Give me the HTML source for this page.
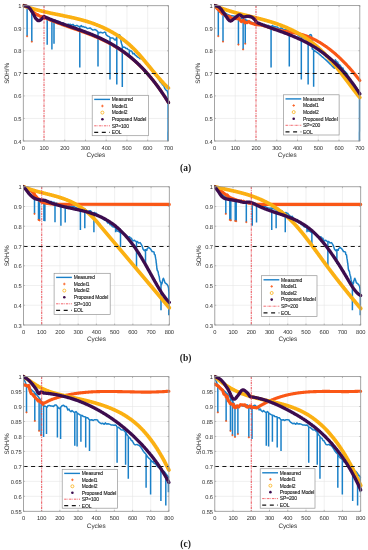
<!DOCTYPE html><html><head><meta charset="utf-8"><style>html,body{margin:0;padding:0;background:#fff;}svg{display:block;filter:blur(0.3px)}.tk{font-family:"Liberation Sans", sans-serif;font-size:5.75px;letter-spacing:-0.12px;fill:#2e2e2e;text-rendering:geometricPrecision}.lb{font-family:"Liberation Sans", sans-serif;font-size:6.4px;letter-spacing:-0.08px;fill:#2e2e2e;text-rendering:geometricPrecision}.lg{font-family:"Liberation Sans", sans-serif;font-size:4.95px;letter-spacing:-0.1px;fill:#1e1e1e;stroke:#1e1e1e;stroke-width:0.12px}.cap{font-family:"Liberation Serif",serif;font-weight:bold;font-size:9.5px;fill:#1a1a1a}</style></head><body>
<svg width="368" height="550" viewBox="0 0 368 550">
<rect width="368" height="550" fill="#fff"/>
<path d="M44.03,5.7V141M64.76,5.7V141M85.49,5.7V141M106.21,5.7V141M126.94,5.7V141M147.67,5.7V141M23.3,28.25H168.4M23.3,50.8H168.4M23.3,73.35H168.4M23.3,95.9H168.4M23.3,118.45H168.4" stroke="#e6e6e6" stroke-width="0.6" fill="none"/>
<clipPath id="c23_5"><rect x="22.8" y="3.2" width="148.1" height="137.8"/></clipPath>
<g clip-path="url(#c23_5)">
<path d="M23.5,5.7L25.2,6.1L26.9,6.7L28.0,7.3L29.0,8.2L30.1,9.3L31.2,10.5L32.3,11.7L33.5,12.7L34.8,13.6L36.2,14.4L37.5,15.1L39.0,15.6L40.4,15.8L41.9,16.0L43.4,16.3L44.9,16.8L46.4,17.3L48.0,17.9L49.5,18.4L51.1,19.0L52.6,19.5L54.0,19.9L55.5,20.4L57.0,21.0L58.6,21.5L60.1,22.2L61.6,23.1L63.1,22.8L64.1,23.7L65.5,25.1L67.0,25.5L68.2,24.1L69.3,24.4L70.4,24.2L71.4,25.2L72.9,24.4L73.9,25.4L75.5,26.0L76.9,25.3L78.5,26.4L80.0,26.5L81.4,25.6L81.9,26.8L83.4,26.6L84.4,27.2L85.9,27.2L87.3,28.5L88.8,28.3L90.4,28.0L91.5,29.1L93.0,30.1L94.5,29.6L95.6,29.8L96.7,30.5L98.2,32.2L99.6,32.7L100.7,32.3L102.3,32.9L103.2,32.8L104.5,32.1L105.6,32.5L105.9,34.2L106.9,35.4L108.0,36.2L109.0,36.5L110.0,37.3L111.1,37.9L112.6,37.9L113.7,38.6L114.5,39.7L115.7,40.0L116.0,39.0L116.7,37.2L117.8,35.8L118.9,34.6L120.0,35.1L120.2,36.1L120.3,37.4L120.5,37.7L120.6,39.2L120.9,40.2L121.1,42.0L121.6,43.8L122.2,45.7L123.2,47.3L124.5,47.2L126.0,48.4L127.2,48.5L128.1,49.6L129.5,50.1L130.4,51.0L131.6,51.0L132.0,51.7L132.9,53.9L134.2,53.3L135.0,54.9L136.3,55.9L137.6,57.1L138.9,57.6L140.0,58.7L141.2,58.3L141.7,58.5L142.1,59.0L143.0,59.4L143.8,59.9L144.2,60.3L145.0,61.8L146.3,61.9L147.2,64.2L148.6,65.2L149.4,66.2L150.3,67.8L151.5,68.0L152.3,70.2L153.7,71.6L155.0,73.1L155.9,74.1L156.7,76.2L158.0,78.0L159.0,79.5L159.8,81.5L161.0,82.8L161.8,83.5L162.4,84.7L163.3,85.3L164.0,86.2L164.6,88.1L165.7,89.8L167.1,90.7L167.9,93.6L168.0,94.9L168.0,95.5L168.1,96.7L168.1,99.2L168.1,101.1L168.1,102.4L168.1,103.9L168.1,105.0L168.1,106.1L168.1,106.4L168.1,108.8L168.1,110.6L168.1,111.3L168.1,112.5L168.1,112.9L168.1,113.9L168.1,115.6L168.1,117.3L168.1,118.8L168.1,119.6L168.1,121.7L168.1,124.2L168.1,125.4L168.1,125.8L168.1,126.3L168.1,127.0L168.1,129.5L168.1,130.8L168.0,133.0L168.0,133.5L168.0,134.2L168.0,136.1L168.0,138.2L168.0,139.2L168.0,139.5L168.0,141.5L168.0,141.0M27.1,6.81V36.3M31.8,11.16V41.7M47.2,17.61V44.7M51.9,19.23V49.5M54,19.92V43.8M79.8,26.49V67.6M98,31.98V66.5M110,37.29V79.6M116.8,37.13V84.5M122.3,45.9V86.9M129.3,49.99V55.9" stroke="#1a80c8" stroke-width="1.5" fill="none" stroke-linejoin="round"/>
<path d="M26.1,36.3h2M27.1,35.3v2" stroke="#fa5716" stroke-width="0.8"/>
<path d="M30.8,41.7h2M31.8,40.7v2" stroke="#fa5716" stroke-width="0.8"/>
<path d="M23.5,5.7L23.8,5.8L24.2,5.9L24.6,5.9L25.1,6.1L25.6,6.2L26.2,6.3L26.7,6.5L27.3,6.7L27.9,7.0L28.4,7.3L28.7,7.5L29.1,7.8L29.5,8.1L29.8,8.5L30.2,8.8L30.6,9.2L30.9,9.6L31.3,10.0L31.7,10.4L32.1,10.8L32.4,11.1L32.8,11.5L33.2,11.9L33.5,12.2L33.9,12.5L34.4,12.9L34.8,13.2L35.3,13.5L35.8,13.9L36.2,14.2L36.7,14.5L37.1,14.7L37.6,15.0L38.0,15.3L38.5,15.5L38.9,15.7L39.3,15.9L39.9,16.1L40.5,16.3L41.1,16.5L41.7,16.6L42.2,16.7L42.7,16.8L43.1,16.8L43.4,16.9L43.9,17.1L44.4,17.4L44.9,17.6L45.4,17.8L45.9,18.1L46.4,18.3L46.9,18.5L47.4,18.7L47.9,18.9L48.4,19.2L48.9,19.4L49.4,19.6L49.9,19.8L50.4,20.0L50.9,20.2L51.4,20.4L51.9,20.6L52.4,20.8L52.9,21.0L53.4,21.2L53.9,21.4L54.4,21.6L54.9,21.8L55.4,22.0L55.9,22.2L56.4,22.4L56.9,22.6L57.4,22.8L57.9,23.0L58.4,23.2L58.9,23.4L59.4,23.5L59.9,23.7L60.4,23.9L60.9,24.1L61.4,24.3L61.9,24.5L62.4,24.7L62.9,24.8L63.4,25.0L63.9,25.2L64.4,25.4L64.9,25.5L65.4,25.7L65.9,25.9L66.4,26.1L66.9,26.3L67.4,26.4L67.9,26.6L68.4,26.8L68.9,27.0L69.4,27.1L69.9,27.3L70.4,27.5L70.9,27.7L71.4,27.8L71.9,28.0L72.4,28.2L72.9,28.3L73.4,28.5L73.9,28.7L74.4,28.9L74.9,29.0L75.4,29.2L75.9,29.4L76.4,29.6L76.9,29.7L77.4,29.9L77.9,30.1L78.4,30.3L78.9,30.4L79.4,30.6L79.9,30.8L80.4,31.0L80.9,31.1L81.4,31.3L81.9,31.5L82.4,31.7L82.9,31.9L83.4,32.0L83.9,32.2L84.4,32.4L84.9,32.6L85.4,32.8L85.9,33.0L86.4,33.1L86.9,33.3L87.4,33.5L87.9,33.7L88.4,33.9L88.9,34.1L89.4,34.3L89.9,34.5L90.4,34.7L90.9,34.9L91.4,35.1L91.9,35.2L92.4,35.4L92.9,35.6L93.4,35.9L93.9,36.1L94.4,36.3L94.9,36.5L95.4,36.7L95.9,36.9L96.4,37.1L96.9,37.3L97.4,37.5L97.9,37.7L98.4,38.0L98.9,38.2L99.4,38.4L99.9,38.6L100.4,38.8L100.9,39.1L101.4,39.3L101.9,39.5L102.4,39.8L102.9,40.0L103.4,40.2L103.9,40.5L104.4,40.7L104.9,41.0L105.4,41.2L105.9,41.5L106.4,41.7L106.9,42.0L107.4,42.2L107.9,42.5L108.4,42.7L108.9,43.0L109.4,43.3L109.9,43.5L110.4,43.8L110.9,44.1L111.4,44.4L111.9,44.6L112.4,44.9L112.9,45.2L113.4,45.5L113.9,45.8L114.4,46.1L114.9,46.4L115.4,46.7L115.9,47.0L116.4,47.3L116.9,47.6L117.4,47.9L117.9,48.2L118.4,48.5L118.9,48.9L119.4,49.2L119.9,49.5L120.4,49.8L120.9,50.2L121.4,50.5L121.9,50.8L122.4,51.2L122.9,51.5L123.4,51.9L123.9,52.2L124.4,52.6L124.9,53.0L125.4,53.3L125.9,53.7L126.4,54.1L126.9,54.5L127.4,54.8L127.9,55.2L128.4,55.6L128.9,56.0L129.4,56.4L129.9,56.8L130.4,57.2L130.9,57.6L131.4,58.0L131.9,58.4L132.4,58.9L132.9,59.3L133.4,59.7L133.9,60.2L134.4,60.6L134.9,61.0L135.4,61.5L135.9,61.9L136.4,62.4L136.9,62.8L137.4,63.3L137.9,63.8L138.4,64.3L138.9,64.7L139.4,65.2L139.9,65.7L140.4,66.2L140.9,66.7L141.4,67.2L141.9,67.7L142.4,68.2L142.9,68.7L143.4,69.3L143.9,69.8L144.4,70.3L144.9,70.8L145.4,71.4L145.9,71.9L146.4,72.5L146.9,73.0L147.4,73.6L147.9,74.2L148.4,74.8L148.9,75.3L149.4,75.9L149.9,76.5L150.4,77.1L150.9,77.7L151.4,78.3L151.9,78.9L152.4,79.5L152.9,80.2L153.4,80.8L153.9,81.4L154.4,82.1L154.9,82.7L155.4,83.4L155.9,84.0L156.4,84.7L156.9,85.3L157.4,86.0L157.9,86.7L158.4,87.4L158.9,88.1L159.4,88.8L159.9,89.5L160.4,90.2L160.9,90.9L161.4,91.6L161.9,92.4L162.4,93.1L162.9,93.8L163.4,94.6L163.9,95.3L164.4,96.1L164.9,96.9L165.4,97.7L165.9,98.4L166.4,99.2L166.9,100.0L167.4,100.8L167.9,101.6L168.4,102.4L168.5,102.6" stroke="#fa5716" stroke-width="3.1" fill="none" stroke-linecap="round" stroke-linejoin="round"/>
<path d="M22.49,5.18h2.6M23.79,3.88v2.6M24.52,6.96h2.6M25.82,5.66v2.6M27.06,7.4h2.6M28.36,6.1v2.6M29.07,9.67h2.6M30.37,8.37v2.6M30.97,11.33h2.6M32.27,10.03v2.6M32.39,13.03h2.6M33.69,11.73v2.6M34.1,13.64h2.6M35.4,12.34v2.6M36.83,14.68h2.6M38.13,13.38v2.6M39.04,16.78h2.6M40.34,15.48v2.6M41.67,17.52h2.6M42.97,16.22v2.6M43.2,18.61h2.6M44.5,17.31v2.6" stroke="#fa5716" stroke-width="0.9" fill="none"/>
<path d="M23.5,5.7L24.0,5.9L24.5,6.1L25.0,6.2L25.5,6.4L26.0,6.6L26.5,6.8L27.0,6.9L27.5,7.1L28.0,7.3L28.5,7.4L29.0,7.6L29.5,7.7L30.0,7.9L30.5,8.1L31.0,8.2L31.5,8.4L32.0,8.5L32.5,8.7L33.0,8.8L33.5,8.9L34.0,9.1L34.5,9.2L35.0,9.4L35.5,9.5L36.0,9.6L36.5,9.8L37.0,9.9L37.5,10.0L38.0,10.2L38.5,10.3L39.0,10.4L39.5,10.6L40.0,10.7L40.5,10.8L41.0,10.9L41.5,11.1L42.0,11.2L42.5,11.3L43.0,11.4L43.5,11.5L44.0,11.6L44.5,11.8L45.0,11.9L45.5,12.0L46.0,12.1L46.5,12.2L47.0,12.3L47.5,12.4L48.0,12.5L48.5,12.7L49.0,12.8L49.5,12.9L50.0,13.0L50.5,13.1L51.0,13.2L51.5,13.3L52.0,13.4L52.5,13.5L53.0,13.6L53.5,13.7L54.0,13.8L54.5,13.9L55.0,14.0L55.5,14.1L56.0,14.2L56.5,14.3L57.0,14.4L57.5,14.5L58.0,14.6L58.5,14.7L59.0,14.8L59.5,14.9L60.0,15.0L60.5,15.1L61.0,15.2L61.5,15.3L62.0,15.4L62.5,15.5L63.0,15.6L63.5,15.8L64.0,15.9L64.5,16.0L65.0,16.1L65.5,16.2L66.0,16.3L66.5,16.4L67.0,16.5L67.5,16.6L68.0,16.7L68.5,16.8L69.0,16.9L69.5,17.0L70.0,17.1L70.5,17.2L71.0,17.3L71.5,17.5L72.0,17.6L72.5,17.7L73.0,17.8L73.5,17.9L74.0,18.0L74.5,18.1L75.0,18.3L75.5,18.4L76.0,18.5L76.5,18.6L77.0,18.7L77.5,18.9L78.0,19.0L78.5,19.1L79.0,19.2L79.5,19.4L80.0,19.5L80.5,19.6L81.0,19.8L81.5,19.9L82.0,20.0L82.5,20.2L83.0,20.3L83.5,20.5L84.0,20.6L84.5,20.7L85.0,20.9L85.5,21.0L86.0,21.2L86.5,21.3L87.0,21.5L87.5,21.6L88.0,21.8L88.5,22.0L89.0,22.1L89.5,22.3L90.0,22.4L90.5,22.6L91.0,22.8L91.5,22.9L92.0,23.1L92.5,23.3L93.0,23.5L93.5,23.6L94.0,23.8L94.5,24.0L95.0,24.2L95.5,24.4L96.0,24.6L96.5,24.8L97.0,25.0L97.5,25.2L98.0,25.4L98.5,25.6L99.0,25.8L99.5,26.0L100.0,26.2L100.5,26.4L101.0,26.6L101.5,26.8L102.0,27.1L102.5,27.3L103.0,27.5L103.5,27.7L104.0,28.0L104.5,28.2L105.0,28.4L105.5,28.7L106.0,28.9L106.5,29.2L107.0,29.4L107.5,29.7L108.0,29.9L108.5,30.2L109.0,30.5L109.5,30.7L110.0,31.0L110.5,31.3L111.0,31.6L111.5,31.8L112.0,32.1L112.5,32.4L113.0,32.7L113.5,33.0L114.0,33.3L114.5,33.6L115.0,33.9L115.5,34.2L116.0,34.5L116.5,34.9L117.0,35.2L117.5,35.5L118.0,35.8L118.5,36.2L119.0,36.5L119.5,36.9L120.0,37.2L120.5,37.6L121.0,37.9L121.5,38.3L122.0,38.6L122.5,39.0L123.0,39.4L123.5,39.8L124.0,40.2L124.5,40.6L125.0,41.0L125.5,41.4L126.0,41.8L126.5,42.2L127.0,42.6L127.5,43.0L128.0,43.4L128.5,43.9L129.0,44.3L129.5,44.8L130.0,45.2L130.5,45.7L131.0,46.1L131.5,46.6L132.0,47.1L132.5,47.6L133.0,48.0L133.5,48.5L134.0,49.0L134.5,49.5L135.0,50.1L135.5,50.6L136.0,51.1L136.5,51.6L137.0,52.2L137.5,52.7L138.0,53.2L138.5,53.8L139.0,54.4L139.5,54.9L140.0,55.5L140.5,56.1L141.0,56.6L141.5,57.2L142.0,57.8L142.5,58.4L143.0,59.0L143.5,59.6L144.0,60.2L144.5,60.8L145.0,61.4L145.5,62.0L146.0,62.6L146.5,63.2L147.0,63.8L147.5,64.4L148.0,65.0L148.5,65.6L149.0,66.2L149.5,66.8L150.0,67.4L150.5,68.0L151.0,68.7L151.5,69.3L152.0,69.9L152.5,70.5L153.0,71.1L153.5,71.7L154.0,72.3L154.5,72.9L155.0,73.5L155.5,74.1L156.0,74.7L156.5,75.3L157.0,75.9L157.5,76.5L158.0,77.0L158.5,77.6L159.0,78.2L159.5,78.8L160.0,79.3L160.5,79.9L161.0,80.5L161.5,81.0L162.0,81.6L162.5,82.1L163.0,82.6L163.5,83.2L164.0,83.7L164.5,84.2L165.0,84.7L165.5,85.2L166.0,85.7L166.5,86.2L167.0,86.7L167.5,87.2L168.0,87.6L168.4,88.0" stroke="#fbb012" stroke-width="3.7" fill="none" stroke-linecap="round" stroke-linejoin="round"/>
<path d="M23.5,5.7L23.8,5.8L24.2,5.8L24.6,5.9L25.1,6.0L25.7,6.1L26.3,6.2L26.8,6.3L27.4,6.5L27.9,6.8L28.4,7.1L28.7,7.4L29.1,7.7L29.4,8.1L29.7,8.4L30.1,8.9L30.4,9.3L30.7,9.7L31.0,10.2L31.3,10.7L31.6,11.1L31.9,11.6L32.2,12.1L32.5,12.5L32.8,13.0L33.1,13.4L33.3,13.9L33.6,14.5L33.9,15.0L34.2,15.5L34.4,16.0L34.7,16.5L34.9,17.0L35.2,17.5L35.4,17.9L35.7,18.3L35.9,18.6L36.4,19.2L36.9,19.7L37.3,20.1L37.7,20.4L38.2,20.6L38.6,20.7L39.0,20.7L39.5,20.5L39.9,20.3L40.4,20.0L40.8,19.6L41.3,19.3L41.7,19.0L42.2,18.5L42.6,18.1L43.1,17.6L43.5,17.2L43.8,16.9L44.1,16.6L44.6,16.8L45.1,17.0L45.6,17.3L46.1,17.5L46.6,17.7L47.1,17.9L47.6,18.1L48.1,18.3L48.6,18.5L49.1,18.7L49.6,19.0L50.1,19.2L50.6,19.4L51.1,19.6L51.6,19.8L52.1,20.0L52.6,20.2L53.1,20.4L53.6,20.6L54.1,20.7L54.6,20.9L55.1,21.1L55.6,21.3L56.1,21.5L56.6,21.7L57.1,21.9L57.6,22.1L58.1,22.3L58.6,22.4L59.1,22.6L59.6,22.8L60.1,23.0L60.6,23.2L61.1,23.4L61.6,23.5L62.1,23.7L62.6,23.9L63.1,24.1L63.6,24.3L64.1,24.4L64.6,24.6L65.1,24.8L65.6,25.0L66.1,25.1L66.6,25.3L67.1,25.5L67.6,25.7L68.1,25.8L68.6,26.0L69.1,26.2L69.6,26.4L70.1,26.5L70.6,26.7L71.1,26.9L71.6,27.1L72.1,27.2L72.6,27.4L73.1,27.6L73.6,27.8L74.1,27.9L74.6,28.1L75.1,28.3L75.6,28.5L76.1,28.6L76.6,28.8L77.1,29.0L77.6,29.2L78.1,29.4L78.6,29.5L79.1,29.7L79.6,29.9L80.1,30.1L80.6,30.3L81.1,30.4L81.6,30.6L82.1,30.8L82.6,31.0L83.1,31.2L83.6,31.3L84.1,31.5L84.6,31.7L85.1,31.9L85.6,32.1L86.1,32.3L86.6,32.5L87.1,32.7L87.6,32.9L88.1,33.1L88.6,33.2L89.1,33.4L89.6,33.6L90.1,33.8L90.6,34.0L91.1,34.2L91.6,34.4L92.1,34.6L92.6,34.9L93.1,35.1L93.6,35.3L94.1,35.5L94.6,35.7L95.1,35.9L95.6,36.1L96.1,36.3L96.6,36.6L97.1,36.8L97.6,37.0L98.1,37.2L98.6,37.4L99.1,37.7L99.6,37.9L100.1,38.1L100.6,38.4L101.1,38.6L101.6,38.8L102.1,39.1L102.6,39.3L103.1,39.6L103.6,39.8L104.1,40.1L104.6,40.3L105.1,40.6L105.6,40.8L106.1,41.1L106.6,41.3L107.1,41.6L107.6,41.8L108.1,42.1L108.6,42.4L109.1,42.7L109.6,42.9L110.1,43.2L110.6,43.5L111.1,43.8L111.6,44.0L112.1,44.3L112.6,44.6L113.1,44.9L113.6,45.2L114.1,45.5L114.6,45.8L115.1,46.1L115.6,46.4L116.1,46.7L116.6,47.1L117.1,47.4L117.6,47.7L118.1,48.0L118.6,48.3L119.1,48.7L119.6,49.0L120.1,49.3L120.6,49.7L121.1,50.0L121.6,50.4L122.1,50.7L122.6,51.1L123.1,51.4L123.6,51.8L124.1,52.1L124.6,52.5L125.1,52.9L125.6,53.3L126.1,53.6L126.6,54.0L127.1,54.4L127.6,54.8L128.1,55.2L128.6,55.6L129.1,56.0L129.6,56.4L130.1,56.8L130.6,57.2L131.1,57.6L131.6,58.0L132.1,58.5L132.6,58.9L133.1,59.3L133.6,59.8L134.1,60.2L134.6,60.6L135.1,61.1L135.6,61.6L136.1,62.0L136.6,62.5L137.1,62.9L137.6,63.4L138.1,63.9L138.6,64.4L139.1,64.9L139.6,65.3L140.1,65.8L140.6,66.3L141.1,66.8L141.6,67.3L142.1,67.9L142.6,68.4L143.1,68.9L143.6,69.4L144.1,70.0L144.6,70.5L145.1,71.0L145.6,71.6L146.1,72.1L146.6,72.7L147.1,73.3L147.6,73.8L148.1,74.4L148.6,75.0L149.1,75.6L149.6,76.2L150.1,76.8L150.6,77.3L151.1,78.0L151.6,78.6L152.1,79.2L152.6,79.8L153.1,80.4L153.6,81.1L154.1,81.7L154.6,82.3L155.1,83.0L155.6,83.6L156.1,84.3L156.6,85.0L157.1,85.6L157.6,86.3L158.1,87.0L158.6,87.7L159.1,88.4L159.6,89.1L160.1,89.8L160.6,90.5L161.1,91.2L161.6,92.0L162.1,92.7L162.6,93.4L163.1,94.2L163.6,94.9L164.1,95.7L164.6,96.4L165.1,97.2L165.6,98.0L166.1,98.8L166.6,99.5L167.1,100.3L167.6,101.1L168.1,102.0L168.5,102.6" stroke="#3c0c4e" stroke-width="3.3" fill="none" stroke-linecap="round" stroke-linejoin="round"/>
<path d="M44.03,5.7V141" stroke="#ef4048" stroke-width="0.9" stroke-dasharray="2.4 1 0.8 1" fill="none"/>
<path d="M23.3,73.5H168.4" stroke="#161616" stroke-width="1.2" stroke-dasharray="4.1 3.45" fill="none"/>
</g>
<rect x="23.3" y="5.7" width="145.1" height="135.3" stroke="#959595" stroke-width="0.85" fill="none"/>
<path d="M23.3,141v-1.4M23.3,5.7v1.4M44.03,141v-1.4M44.03,5.7v1.4M64.76,141v-1.4M64.76,5.7v1.4M85.49,141v-1.4M85.49,5.7v1.4M106.21,141v-1.4M106.21,5.7v1.4M126.94,141v-1.4M126.94,5.7v1.4M147.67,141v-1.4M147.67,5.7v1.4M168.4,141v-1.4M168.4,5.7v1.4M23.3,5.7h1.4M168.4,5.7h-1.4M23.3,28.25h1.4M168.4,28.25h-1.4M23.3,50.8h1.4M168.4,50.8h-1.4M23.3,73.35h1.4M168.4,73.35h-1.4M23.3,95.9h1.4M168.4,95.9h-1.4M23.3,118.45h1.4M168.4,118.45h-1.4M23.3,141h1.4M168.4,141h-1.4" stroke="#959595" stroke-width="0.6" fill="none"/>
<text x="23.3" y="149.9" text-anchor="middle" class="tk">0</text>
<text x="44.03" y="149.9" text-anchor="middle" class="tk">100</text>
<text x="64.76" y="149.9" text-anchor="middle" class="tk">200</text>
<text x="85.49" y="149.9" text-anchor="middle" class="tk">300</text>
<text x="106.21" y="149.9" text-anchor="middle" class="tk">400</text>
<text x="126.94" y="149.9" text-anchor="middle" class="tk">500</text>
<text x="147.67" y="149.9" text-anchor="middle" class="tk">600</text>
<text x="168.4" y="149.9" text-anchor="middle" class="tk">700</text>
<text x="21.3" y="8.2" text-anchor="end" class="tk">1</text>
<text x="21.3" y="30.75" text-anchor="end" class="tk">0.9</text>
<text x="21.3" y="53.3" text-anchor="end" class="tk">0.8</text>
<text x="21.3" y="75.85" text-anchor="end" class="tk">0.7</text>
<text x="21.3" y="98.4" text-anchor="end" class="tk">0.6</text>
<text x="21.3" y="120.95" text-anchor="end" class="tk">0.5</text>
<text x="21.3" y="143.5" text-anchor="end" class="tk">0.4</text>
<text x="95.85" y="157.2" text-anchor="middle" class="lb">Cycles</text>
<text x="9.1" y="73.35" transform="rotate(-90 9.1 73.35)" text-anchor="middle" class="lb">SOH/%</text>
<path d="M235.26,5.6V141M256.01,5.6V141M276.77,5.6V141M297.53,5.6V141M318.29,5.6V141M339.04,5.6V141M214.5,28.17H359.8M214.5,50.73H359.8M214.5,73.3H359.8M214.5,95.87H359.8M214.5,118.43H359.8" stroke="#e6e6e6" stroke-width="0.6" fill="none"/>
<clipPath id="c214_5"><rect x="214" y="3.1" width="148.3" height="137.9"/></clipPath>
<g clip-path="url(#c214_5)">
<path d="M214.7,5.6L216.4,6.0L218.1,6.6L219.2,7.2L220.2,8.1L221.3,9.2L222.4,10.4L223.5,11.6L224.7,12.6L226.0,13.5L227.4,14.4L228.8,15.0L230.2,15.5L231.6,15.7L233.1,15.9L234.7,16.2L236.1,16.7L237.7,17.2L239.2,17.8L240.8,18.3L242.3,18.9L243.8,19.4L245.3,19.8L246.7,20.3L248.3,20.9L249.8,21.4L251.4,22.1L252.8,23.0L254.4,22.7L255.3,23.6L256.7,25.0L258.3,25.4L259.4,24.0L260.6,24.3L261.7,24.2L262.7,25.1L264.2,24.3L265.2,25.3L266.7,25.9L268.2,25.3L269.7,26.3L271.3,26.4L272.7,25.5L273.2,26.8L274.6,26.5L275.7,27.1L277.2,27.1L278.6,28.4L280.1,28.2L281.7,27.9L282.8,29.1L284.3,30.0L285.8,29.5L286.9,29.7L288.0,30.4L289.5,32.1L290.9,32.7L292.0,32.2L293.6,32.8L294.5,32.7L295.8,32.1L296.9,32.5L297.2,34.1L298.2,35.4L299.3,36.1L300.3,36.4L301.4,37.2L302.5,37.8L303.9,37.9L305.0,38.5L305.9,39.6L307.0,39.9L307.3,38.9L308.0,37.2L309.1,35.7L310.3,34.6L311.3,35.0L311.6,36.0L311.7,37.3L311.9,37.7L312.0,39.2L312.2,48.9L312.5,49.1L312.9,49.4L313.5,49.9L314.5,50.6L315.8,51.6L317.3,52.7L318.6,53.7L319.5,54.4L320.9,55.6L321.7,56.3L322.9,57.3L323.4,57.7L324.2,58.5L325.5,59.6L326.4,60.4L327.7,61.6L329.0,62.9L330.2,64.1L331.4,65.2L332.5,66.4L333.0,66.9L333.5,67.4L334.4,68.3L335.2,59.8L335.6,60.2L336.4,61.7L337.6,61.9L338.5,64.2L340.0,65.1L340.7,66.1L341.7,67.8L342.9,68.0L343.7,70.2L345.1,71.5L346.4,73.0L347.3,74.0L348.1,76.1L349.4,78.0L350.4,79.5L351.2,81.4L352.4,82.7L353.2,83.5L353.7,84.7L354.7,85.3L355.4,86.1L356.0,88.1L357.1,89.8L358.5,90.6L359.3,93.5L359.4,94.9L359.4,95.4L359.5,96.7L359.5,99.2L359.5,101.1L359.5,102.4L359.5,103.9L359.5,105.0L359.5,106.0L359.5,106.4L359.5,108.7L359.5,110.5L359.5,111.3L359.5,112.5L359.5,112.9L359.5,113.8L359.5,115.6L359.5,117.3L359.5,118.8L359.5,119.6L359.5,121.6L359.5,124.1L359.5,125.4L359.5,125.8L359.5,126.3L359.5,127.0L359.5,129.5L359.5,130.8L359.4,133.0L359.4,133.5L359.4,134.2L359.4,136.1L359.4,138.2L359.4,139.2L359.4,139.5L359.4,141.5L359.4,141.0M218.31,6.71V36.22M223.01,11.06V41.63M238.43,17.51V44.63M243.14,19.14V49.43M245.24,19.83V43.73M271.08,26.41V67.55M289.3,31.9V66.44M301.32,37.22V79.55M308.13,37.05V84.46M313.64,49.95V86.86M320.65,55.4V55.84" stroke="#1a80c8" stroke-width="1.5" fill="none" stroke-linejoin="round"/>
<path d="M217.31,36.22h2M218.31,35.22v2" stroke="#fa5716" stroke-width="0.8"/>
<path d="M222.01,41.63h2M223.01,40.63v2" stroke="#fa5716" stroke-width="0.8"/>
<path d="M237.43,44.63h2M238.43,43.63v2" stroke="#fa5716" stroke-width="0.8"/>
<path d="M242.14,49.43h2M243.14,48.43v2" stroke="#fa5716" stroke-width="0.8"/>
<path d="M244.24,43.73h2M245.24,42.73v2" stroke="#fa5716" stroke-width="0.8"/>
<path d="M214.5,5.6L215.6,6.9L216.9,8.3L218.1,9.4L219.6,10.9L220.9,12.0L222.2,13.0L223.9,14.4L225.3,14.9L226.6,16.1L228.4,16.3L229.9,16.6L231.4,18.4L233.5,18.3L235.6,18.4L237.5,18.8L239.1,18.8L240.0,19.9L241.4,21.6L243.4,20.3L245.0,22.2L247.0,22.7L249.0,21.5L250.4,23.1L252.4,23.5L254.1,24.1L254.7,24.1L255.2,24.3L255.6,24.5L256.1,24.6L256.4,24.7L256.7,24.8L257.2,24.8L257.7,24.8L258.2,24.8L258.7,24.8L259.2,24.9L259.7,24.9L260.2,25.0L260.7,25.1L261.2,25.2L261.7,25.3L262.2,25.4L262.7,25.5L263.2,25.6L263.7,25.7L264.2,25.9L264.7,26.0L265.2,26.2L265.7,26.3L266.2,26.5L266.7,26.6L267.2,26.8L267.7,26.9L268.2,27.1L268.7,27.3L269.2,27.4L269.7,27.6L270.2,27.8L270.7,27.9L271.2,28.1L271.7,28.3L272.2,28.4L272.7,28.6L273.2,28.7L273.7,28.9L274.2,29.0L274.7,29.2L275.2,29.3L275.7,29.5L276.2,29.6L276.7,29.7L277.2,29.8L277.7,30.0L278.2,30.1L278.7,30.2L279.2,30.3L279.7,30.4L280.2,30.5L280.7,30.6L281.2,30.7L281.7,30.8L282.2,30.9L282.7,31.0L283.2,31.0L283.7,31.1L284.2,31.2L284.7,31.3L285.2,31.4L285.7,31.5L286.2,31.5L286.7,31.6L287.2,31.7L287.7,31.8L288.2,31.8L288.7,31.9L289.2,32.0L289.7,32.1L290.2,32.2L290.7,32.2L291.2,32.3L291.7,32.4L292.2,32.5L292.7,32.6L293.2,32.6L293.7,32.7L294.2,32.8L294.7,32.9L295.2,33.0L295.7,33.1L296.2,33.2L296.7,33.3L297.2,33.4L297.7,33.5L298.2,33.6L298.7,33.7L299.2,33.9L299.7,34.0L300.2,34.1L300.7,34.2L301.2,34.4L301.7,34.5L302.2,34.7L302.7,34.8L303.2,35.0L303.7,35.1L304.2,35.3L304.7,35.5L305.2,35.6L305.7,35.8L306.2,36.0L306.7,36.2L307.2,36.3L307.7,36.5L308.2,36.7L308.7,36.9L309.2,37.1L309.7,37.3L310.2,37.6L310.7,37.8L311.2,38.0L311.7,38.2L312.2,38.5L312.7,38.7L313.2,38.9L313.7,39.2L314.2,39.4L314.7,39.7L315.2,39.9L315.7,40.2L316.2,40.5L316.7,40.7L317.2,41.0L317.7,41.3L318.2,41.6L318.7,41.9L319.2,42.1L319.7,42.4L320.2,42.7L320.7,43.0L321.2,43.4L321.7,43.7L322.2,44.0L322.7,44.3L323.2,44.6L323.7,45.0L324.2,45.3L324.7,45.6L325.2,46.0L325.7,46.3L326.2,46.7L326.7,47.0L327.2,47.4L327.7,47.8L328.2,48.1L328.7,48.5L329.2,48.9L329.7,49.3L330.2,49.7L330.7,50.1L331.2,50.4L331.7,50.9L332.2,51.3L332.7,51.7L333.2,52.1L333.7,52.5L334.2,52.9L334.7,53.3L335.2,53.8L335.7,54.2L336.2,54.7L336.7,55.1L337.2,55.6L337.7,56.0L338.2,56.5L338.7,56.9L339.2,57.4L339.7,57.9L340.2,58.3L340.7,58.8L341.2,59.3L341.7,59.8L342.2,60.3L342.7,60.8L343.2,61.3L343.7,61.8L344.2,62.3L344.7,62.8L345.2,63.3L345.7,63.9L346.2,64.4L346.7,64.9L347.2,65.5L347.7,66.0L348.2,66.6L348.7,67.1L349.2,67.7L349.7,68.2L350.2,68.8L350.7,69.4L351.2,69.9L351.7,70.5L352.2,71.1L352.7,71.7L353.2,72.3L353.7,72.9L354.2,73.5L354.7,74.1L355.2,74.7L355.7,75.3L356.2,75.9L356.7,76.5L357.2,77.2L357.7,77.8L358.2,78.4L358.7,79.1L359.2,79.7L359.7,80.4L359.8,80.5" stroke="#fa5716" stroke-width="3.1" fill="none" stroke-linecap="round" stroke-linejoin="round"/>
<path d="M213.09,5.3h2.6M214.39,4v2.6M215.71,7.66h2.6M217.01,6.36v2.6M218.21,11.3h2.6M219.51,10v2.6M220.7,14.04h2.6M222,12.74v2.6M222.67,14.17h2.6M223.97,12.87v2.6M225.49,15.9h2.6M226.79,14.6v2.6M228.73,17.67h2.6M230.03,16.37v2.6M230.27,19.12h2.6M231.57,17.82v2.6M234.57,17.51h2.6M235.87,16.21v2.6M237.79,17.94h2.6M239.09,16.64v2.6M240.06,21.65h2.6M241.36,20.35v2.6M241.88,20.55h2.6M243.18,19.25v2.6M243.48,23.21h2.6M244.78,21.91v2.6M247.52,21.2h2.6M248.82,19.9v2.6M250.92,23.16h2.6M252.22,21.86v2.6M253.16,24.36h2.6M254.46,23.06v2.6" stroke="#fa5716" stroke-width="0.9" fill="none"/>
<path d="M214.5,5.6L215.0,5.8L215.5,6.0L216.0,6.2L216.5,6.4L217.0,6.6L217.5,6.8L218.0,7.0L218.5,7.2L219.0,7.4L219.5,7.6L220.0,7.8L220.5,7.9L221.0,8.1L221.5,8.3L222.0,8.5L222.5,8.7L223.0,8.8L223.5,9.0L224.0,9.2L224.5,9.3L225.0,9.5L225.5,9.7L226.0,9.8L226.5,10.0L227.0,10.2L227.5,10.3L228.0,10.5L228.5,10.6L229.0,10.8L229.5,10.9L230.0,11.1L230.5,11.2L231.0,11.4L231.5,11.5L232.0,11.7L232.5,11.8L233.0,12.0L233.5,12.1L234.0,12.2L234.5,12.4L235.0,12.5L235.5,12.7L236.0,12.8L236.5,12.9L237.0,13.1L237.5,13.2L238.0,13.3L238.5,13.5L239.0,13.6L239.5,13.7L240.0,13.9L240.5,14.0L241.0,14.1L241.5,14.2L242.0,14.4L242.5,14.5L243.0,14.6L243.5,14.7L244.0,14.9L244.5,15.0L245.0,15.1L245.5,15.2L246.0,15.4L246.5,15.5L247.0,15.6L247.5,15.7L248.0,15.9L248.5,16.0L249.0,16.1L249.5,16.2L250.0,16.3L250.5,16.5L251.0,16.6L251.5,16.7L252.0,16.8L252.5,17.0L253.0,17.1L253.5,17.2L254.0,17.3L254.5,17.5L255.0,17.6L255.5,17.7L256.0,17.8L256.5,18.0L257.0,18.1L257.5,18.2L258.0,18.3L258.5,18.5L259.0,18.6L259.5,18.7L260.0,18.8L260.5,19.0L261.0,19.1L261.5,19.2L262.0,19.4L262.5,19.5L263.0,19.6L263.5,19.8L264.0,19.9L264.5,20.0L265.0,20.2L265.5,20.3L266.0,20.5L266.5,20.6L267.0,20.7L267.5,20.9L268.0,21.0L268.5,21.2L269.0,21.3L269.5,21.5L270.0,21.6L270.5,21.8L271.0,21.9L271.5,22.1L272.0,22.2L272.5,22.4L273.0,22.5L273.5,22.7L274.0,22.9L274.5,23.0L275.0,23.2L275.5,23.4L276.0,23.5L276.5,23.7L277.0,23.9L277.5,24.0L278.0,24.2L278.5,24.4L279.0,24.6L279.5,24.8L280.0,24.9L280.5,25.1L281.0,25.3L281.5,25.5L282.0,25.7L282.5,25.9L283.0,26.1L283.5,26.3L284.0,26.5L284.5,26.7L285.0,26.9L285.5,27.1L286.0,27.3L286.5,27.5L287.0,27.7L287.5,28.0L288.0,28.2L288.5,28.4L289.0,28.6L289.5,28.9L290.0,29.1L290.5,29.3L291.0,29.6L291.5,29.8L292.0,30.1L292.5,30.3L293.0,30.5L293.5,30.8L294.0,31.1L294.5,31.3L295.0,31.6L295.5,31.8L296.0,32.1L296.5,32.4L297.0,32.6L297.5,32.9L298.0,33.2L298.5,33.5L299.0,33.8L299.5,34.1L300.0,34.4L300.5,34.7L301.0,35.0L301.5,35.3L302.0,35.6L302.5,35.9L303.0,36.2L303.5,36.5L304.0,36.8L304.5,37.2L305.0,37.5L305.5,37.8L306.0,38.2L306.5,38.5L307.0,38.8L307.5,39.2L308.0,39.5L308.5,39.9L309.0,40.3L309.5,40.6L310.0,41.0L310.5,41.4L311.0,41.7L311.5,42.1L312.0,42.5L312.5,42.9L313.0,43.3L313.5,43.7L314.0,44.1L314.5,44.5L315.0,44.9L315.5,45.3L316.0,45.8L316.5,46.2L317.0,46.6L317.5,47.0L318.0,47.5L318.5,47.9L319.0,48.4L319.5,48.8L320.0,49.3L320.5,49.8L321.0,50.2L321.5,50.7L322.0,51.2L322.5,51.7L323.0,52.1L323.5,52.6L324.0,53.1L324.5,53.6L325.0,54.1L325.5,54.7L326.0,55.2L326.5,55.7L327.0,56.2L327.5,56.8L328.0,57.3L328.5,57.8L329.0,58.4L329.5,59.0L330.0,59.5L330.5,60.1L331.0,60.7L331.5,61.2L332.0,61.8L332.5,62.4L333.0,63.0L333.5,63.6L334.0,64.2L334.5,64.8L335.0,65.4L335.5,66.0L336.0,66.6L336.5,67.3L337.0,67.9L337.5,68.5L338.0,69.1L338.5,69.8L339.0,70.4L339.5,71.1L340.0,71.7L340.5,72.3L341.0,73.0L341.5,73.6L342.0,74.3L342.5,74.9L343.0,75.6L343.5,76.3L344.0,76.9L344.5,77.6L345.0,78.2L345.5,78.9L346.0,79.6L346.5,80.2L347.0,80.9L347.5,81.5L348.0,82.2L348.5,82.9L349.0,83.5L349.5,84.2L350.0,84.9L350.5,85.5L351.0,86.2L351.5,86.8L352.0,87.5L352.5,88.2L353.0,88.8L353.5,89.5L354.0,90.1L354.5,90.8L355.0,91.4L355.5,92.1L356.0,92.7L356.5,93.3L357.0,94.0L357.5,94.6L358.0,95.3L358.5,95.9L359.0,96.5L359.5,97.1L359.8,97.5" stroke="#fbb012" stroke-width="3.7" fill="none" stroke-linecap="round" stroke-linejoin="round"/>
<path d="M214.5,5.6L214.8,5.7L215.2,5.8L215.6,5.9L216.2,6.0L216.7,6.2L217.3,6.3L217.9,6.6L218.4,6.8L219.0,7.1L219.5,7.5L219.8,7.8L220.1,8.1L220.4,8.4L220.8,8.8L221.1,9.2L221.4,9.6L221.7,10.0L222.0,10.4L222.3,10.9L222.6,11.3L222.9,11.8L223.2,12.2L223.5,12.7L223.9,13.2L224.2,13.6L224.5,14.0L224.8,14.4L225.1,14.8L225.4,15.3L225.7,15.8L226.0,16.3L226.4,16.7L226.7,17.2L227.0,17.7L227.3,18.2L227.6,18.6L227.9,19.0L228.3,19.4L228.6,19.8L228.9,20.1L229.2,20.4L229.4,20.6L229.7,20.8L230.3,21.0L230.8,21.0L231.2,20.9L231.7,20.6L232.2,20.2L232.6,19.8L233.1,19.4L233.7,19.0L234.1,18.7L234.5,18.4L234.9,18.1L235.3,17.7L235.8,17.3L236.2,16.9L236.7,16.5L237.1,16.1L237.6,15.8L238.0,15.5L238.4,15.2L238.8,15.0L239.2,14.9L239.7,14.9L240.2,15.0L240.7,15.2L241.1,15.6L241.6,15.9L242.0,16.3L242.4,16.6L242.9,16.9L243.3,17.0L243.8,17.0L244.3,17.0L244.8,16.9L245.3,16.8L245.8,16.7L246.3,16.5L246.8,16.4L247.3,16.4L247.8,16.4L248.4,16.4L248.9,16.5L249.4,16.5L250.0,16.6L250.5,16.7L251.0,16.8L251.4,17.0L251.9,17.2L252.4,17.5L252.8,17.8L253.2,18.2L253.7,18.6L254.1,19.0L254.4,19.3L254.8,19.8L255.2,20.2L255.5,20.7L255.9,21.2L256.2,21.6L256.5,22.0L256.8,22.3L257.0,22.6L257.5,22.8L258.0,23.0L258.5,23.2L259.0,23.4L259.5,23.6L260.0,23.8L260.5,24.0L261.0,24.2L261.5,24.4L262.0,24.6L262.5,24.8L263.0,25.0L263.5,25.2L264.0,25.4L264.5,25.6L265.0,25.8L265.5,25.9L266.0,26.1L266.5,26.3L267.0,26.5L267.5,26.7L268.0,26.9L268.5,27.1L269.0,27.2L269.5,27.4L270.0,27.6L270.5,27.8L271.0,28.0L271.5,28.2L272.0,28.3L272.5,28.5L273.0,28.7L273.5,28.9L274.0,29.1L274.5,29.2L275.0,29.4L275.5,29.6L276.0,29.8L276.5,30.0L277.0,30.1L277.5,30.3L278.0,30.5L278.5,30.7L279.0,30.9L279.5,31.0L280.0,31.2L280.5,31.4L281.0,31.6L281.5,31.8L282.0,32.0L282.5,32.1L283.0,32.3L283.5,32.5L284.0,32.7L284.5,32.9L285.0,33.1L285.5,33.3L286.0,33.5L286.5,33.6L287.0,33.8L287.5,34.0L288.0,34.2L288.5,34.4L289.0,34.6L289.5,34.8L290.0,35.0L290.5,35.2L291.0,35.4L291.5,35.6L292.0,35.8L292.5,36.0L293.0,36.2L293.5,36.4L294.0,36.7L294.5,36.9L295.0,37.1L295.5,37.3L296.0,37.5L296.5,37.7L297.0,37.9L297.5,38.2L298.0,38.4L298.5,38.6L299.0,38.8L299.5,39.1L300.0,39.3L300.5,39.5L301.0,39.8L301.5,40.0L302.0,40.3L302.5,40.5L303.0,40.7L303.5,41.0L304.0,41.2L304.5,41.5L305.0,41.7L305.5,42.0L306.0,42.3L306.5,42.5L307.0,42.8L307.5,43.0L308.0,43.3L308.5,43.6L309.0,43.9L309.5,44.1L310.0,44.4L310.5,44.7L311.0,45.0L311.5,45.3L312.0,45.6L312.5,45.9L313.0,46.2L313.5,46.5L314.0,46.8L314.5,47.1L315.0,47.4L315.5,47.7L316.0,48.0L316.5,48.4L317.0,48.7L317.5,49.0L318.0,49.3L318.5,49.7L319.0,50.0L319.5,50.4L320.0,50.7L320.5,51.1L321.0,51.4L321.5,51.8L322.0,52.1L322.5,52.5L323.0,52.9L323.5,53.2L324.0,53.6L324.5,54.0L325.0,54.4L325.5,54.8L326.0,55.2L326.5,55.6L327.0,56.0L327.5,56.4L328.0,56.8L328.5,57.2L329.0,57.6L329.5,58.1L330.0,58.5L330.5,58.9L331.0,59.4L331.5,59.8L332.0,60.2L332.5,60.7L333.0,61.2L333.5,61.6L334.0,62.1L334.5,62.6L335.0,63.0L335.5,63.5L336.0,64.0L336.5,64.5L337.0,65.0L337.5,65.5L338.0,66.0L338.5,66.5L339.0,67.0L339.5,67.6L340.0,68.1L340.5,68.6L341.0,69.2L341.5,69.7L342.0,70.3L342.5,70.8L343.0,71.4L343.5,71.9L344.0,72.5L344.5,73.1L345.0,73.7L345.5,74.3L346.0,74.9L346.5,75.5L347.0,76.1L347.5,76.7L348.0,77.3L348.5,77.9L349.0,78.6L349.5,79.2L350.0,79.9L350.5,80.5L351.0,81.2L351.5,81.8L352.0,82.5L352.5,83.2L353.0,83.9L353.5,84.5L354.0,85.2L354.5,85.9L355.0,86.7L355.5,87.4L356.0,88.1L356.5,88.8L357.0,89.6L357.5,90.3L358.0,91.0L358.5,91.8L359.0,92.6L359.5,93.3L359.8,93.8" stroke="#3c0c4e" stroke-width="3.3" fill="none" stroke-linecap="round" stroke-linejoin="round"/>
<path d="M256.01,5.6V141" stroke="#ef4048" stroke-width="0.9" stroke-dasharray="2.4 1 0.8 1" fill="none"/>
<path d="M214.5,73.5H359.8" stroke="#161616" stroke-width="1.2" stroke-dasharray="4.1 3.45" fill="none"/>
</g>
<rect x="214.5" y="5.6" width="145.3" height="135.4" stroke="#959595" stroke-width="0.85" fill="none"/>
<path d="M214.5,141v-1.4M214.5,5.6v1.4M235.26,141v-1.4M235.26,5.6v1.4M256.01,141v-1.4M256.01,5.6v1.4M276.77,141v-1.4M276.77,5.6v1.4M297.53,141v-1.4M297.53,5.6v1.4M318.29,141v-1.4M318.29,5.6v1.4M339.04,141v-1.4M339.04,5.6v1.4M359.8,141v-1.4M359.8,5.6v1.4M214.5,5.6h1.4M359.8,5.6h-1.4M214.5,28.17h1.4M359.8,28.17h-1.4M214.5,50.73h1.4M359.8,50.73h-1.4M214.5,73.3h1.4M359.8,73.3h-1.4M214.5,95.87h1.4M359.8,95.87h-1.4M214.5,118.43h1.4M359.8,118.43h-1.4M214.5,141h1.4M359.8,141h-1.4" stroke="#959595" stroke-width="0.6" fill="none"/>
<text x="214.5" y="149.9" text-anchor="middle" class="tk">0</text>
<text x="235.26" y="149.9" text-anchor="middle" class="tk">100</text>
<text x="256.01" y="149.9" text-anchor="middle" class="tk">200</text>
<text x="276.77" y="149.9" text-anchor="middle" class="tk">300</text>
<text x="297.53" y="149.9" text-anchor="middle" class="tk">400</text>
<text x="318.29" y="149.9" text-anchor="middle" class="tk">500</text>
<text x="339.04" y="149.9" text-anchor="middle" class="tk">600</text>
<text x="359.8" y="149.9" text-anchor="middle" class="tk">700</text>
<text x="212.5" y="8.1" text-anchor="end" class="tk">1</text>
<text x="212.5" y="30.67" text-anchor="end" class="tk">0.9</text>
<text x="212.5" y="53.23" text-anchor="end" class="tk">0.8</text>
<text x="212.5" y="75.8" text-anchor="end" class="tk">0.7</text>
<text x="212.5" y="98.37" text-anchor="end" class="tk">0.6</text>
<text x="212.5" y="120.93" text-anchor="end" class="tk">0.5</text>
<text x="212.5" y="143.5" text-anchor="end" class="tk">0.4</text>
<text x="287.15" y="157.2" text-anchor="middle" class="lb">Cycles</text>
<text x="200.3" y="73.3" transform="rotate(-90 200.3 73.3)" text-anchor="middle" class="lb">SOH/%</text>
<path d="M41.73,186.75V325M59.95,186.75V325M78.18,186.75V325M96.4,186.75V325M114.62,186.75V325M132.85,186.75V325M151.08,186.75V325M23.5,206.5H169.3M23.5,226.25H169.3M23.5,246H169.3M23.5,265.75H169.3M23.5,285.5H169.3M23.5,305.25H169.3" stroke="#e6e6e6" stroke-width="0.6" fill="none"/>
<clipPath id="c23_186"><rect x="23" y="184.25" width="148.8" height="140.75"/></clipPath>
<g clip-path="url(#c23_186)">
<path d="M23.5,186.8L24.7,187.8L26.1,189.1L27.0,190.0L28.0,191.1L29.0,192.3L30.1,193.6L31.2,194.8L32.4,195.8L33.7,196.7L35.1,197.5L36.5,198.2L38.0,198.8L39.4,199.3L40.9,199.6L42.5,200.0L44.0,200.3L45.5,200.6L47.0,201.0L48.4,201.4L49.9,201.7L51.5,201.5L52.5,203.0L53.9,202.0L54.8,203.6L56.3,203.0L57.8,203.6L59.4,204.2L60.9,204.0L62.4,203.9L63.9,204.0L64.9,204.0L65.9,205.5L67.5,205.3L69.0,205.1L70.0,206.8L71.5,205.9L72.5,206.4L74.0,206.5L75.5,207.6L77.0,207.9L78.5,208.3L80.0,208.0L81.0,208.3L82.0,208.5L83.0,209.0L84.5,209.0L85.5,209.3L86.5,211.2L88.0,211.7L89.5,210.7L90.5,210.7L90.9,211.3L91.9,212.6L93.3,213.4L94.7,212.5L95.2,213.8L96.5,213.3L97.0,214.6L98.3,215.5L99.6,216.9L100.9,216.3L101.8,217.9L103.0,218.9L104.5,220.2L106.0,219.6L106.4,220.9L107.6,222.9L109.2,223.0L110.0,224.6L111.2,225.1L112.4,226.6L113.6,227.1L114.6,227.0L114.9,227.4L115.8,228.2L116.3,228.9L117.1,231.0L118.6,231.4L119.9,232.5L121.4,232.5L122.8,233.1L124.2,234.2L125.5,235.3L126.8,236.2L128.3,237.2L129.6,236.8L130.3,237.9L131.5,238.2L131.9,239.5L133.1,240.9L134.5,240.3L135.0,240.9L135.9,241.5L137.5,241.6L138.6,243.0L140.1,242.6L141.1,244.2L141.8,245.3L142.4,247.0L143.0,249.0L144.2,250.6L145.5,249.7L146.8,250.2L147.2,248.7L148.7,247.3L149.5,248.1L150.8,249.3L152.1,251.5L153.4,251.8L154.1,252.2L154.3,254.3L155.1,254.8L155.3,256.3L155.6,258.2L155.9,259.5L156.1,261.0L156.2,262.8L156.4,263.4L156.5,265.0L156.7,266.2L156.9,268.7L157.4,270.7L157.9,271.1L158.1,271.8L158.3,273.2L158.7,275.2L159.1,276.1L159.3,277.2L159.6,279.4L160.2,281.7L160.9,282.8L161.3,284.8L162.1,283.2L162.5,281.0L162.8,279.8L163.1,278.8L163.5,278.4L164.3,280.5L164.9,282.6L166.4,283.8L167.5,285.1L168.2,286.5L168.6,288.3L168.7,290.4L168.8,291.4L168.9,292.1L168.9,292.9L168.9,293.8L168.9,295.1L168.9,297.1L168.9,297.9L168.9,299.3L168.9,301.2L168.9,301.9L168.9,302.7L168.9,303.7L168.9,304.6L168.9,306.6L168.9,307.7L168.9,308.3L168.8,310.6L168.8,312.6L168.8,314.2L168.8,315.2M34.5,197.16V213.9M38.5,198.96V219.9M39.5,199.29V220.4M43.9,200.25V221M44.9,200.48V221.2M55,203.55V222.2M60.9,204.03V225.7M65.2,204.49V222.4M80.4,208.16V230M84.8,209.11V228.3M93.9,213V232.2M115.6,228.05V232.2M120.5,232.46V247M136.5,241.57V267.7M145.5,249.72V264M161,283.29V310.3" stroke="#1a80c8" stroke-width="1.5" fill="none" stroke-linejoin="round"/>
<path d="M33.5,213.9h2M34.5,212.9v2" stroke="#fa5716" stroke-width="0.8"/>
<path d="M37.5,219.9h2M38.5,218.9v2" stroke="#fa5716" stroke-width="0.8"/>
<path d="M38.5,220.4h2M39.5,219.4v2" stroke="#fa5716" stroke-width="0.8"/>
<path d="M23.5,186.8L23.8,186.9L24.2,187.0L24.7,187.1L25.2,187.3L25.7,187.5L26.3,187.7L26.9,187.9L27.5,188.2L28.0,188.5L28.4,188.7L28.8,189.0L29.2,189.3L29.7,189.6L30.1,189.9L30.5,190.2L31.0,190.5L31.4,190.8L31.8,191.2L32.2,191.5L32.5,191.9L32.9,192.2L33.3,192.6L33.6,193.0L33.9,193.4L34.2,193.8L34.5,194.2L34.7,194.7L35.0,195.1L35.3,195.6L35.7,196.0L36.1,196.5L36.4,196.8L36.7,197.2L37.0,197.6L37.3,198.0L37.7,198.3L38.0,198.7L38.3,199.2L38.7,199.5L39.1,199.9L39.5,200.3L39.9,200.7L40.3,201.0L40.7,201.3L41.1,201.6L41.6,201.9L42.0,202.1L42.5,202.3L42.9,202.5L43.4,202.6L43.9,202.8L44.4,202.9L44.9,203.0L45.4,203.1L45.9,203.2L46.4,203.3L47.0,203.4L47.5,203.5L48.0,203.5L48.5,203.6L49.0,203.7L49.5,203.7L50.0,203.8L50.6,203.9L51.1,203.9L51.7,204.0L52.3,204.0L53.0,204.1L53.6,204.1L54.2,204.2L54.8,204.2L55.3,204.2L55.9,204.2L56.4,204.2L56.8,204.3L57.2,204.3L57.6,204.3L57.9,204.3L169.3,204.4" stroke="#fa5716" stroke-width="3.1" fill="none" stroke-linecap="round" stroke-linejoin="round"/>
<path d="M21.88,186.28h2.6M23.18,184.98v2.6M24.65,187.5h2.6M25.95,186.2v2.6M26.39,187.55h2.6M27.69,186.25v2.6M29.09,190.74h2.6M30.39,189.44v2.6M30.8,192.12h2.6M32.1,190.82v2.6M32.35,194.48h2.6M33.65,193.18v2.6M33.68,196.43h2.6M34.98,195.13v2.6M35.76,198.47h2.6M37.06,197.17v2.6M37.72,198.68h2.6M39.02,197.38v2.6M39.21,200.63h2.6M40.51,199.33v2.6" stroke="#fa5716" stroke-width="0.9" fill="none"/>
<path d="M23.5,186.7L24.0,187.0L24.5,187.2L25.0,187.4L25.5,187.6L26.0,187.8L26.5,188.0L27.0,188.2L27.5,188.3L28.0,188.5L28.5,188.7L29.0,188.9L29.5,189.0L30.0,189.2L30.5,189.4L31.0,189.6L31.5,189.7L32.0,189.9L32.5,190.0L33.0,190.2L33.5,190.3L34.0,190.5L34.5,190.6L35.0,190.8L35.5,190.9L36.0,191.1L36.5,191.2L37.0,191.4L37.5,191.5L38.0,191.6L38.5,191.8L39.0,191.9L39.5,192.0L40.0,192.2L40.5,192.3L41.0,192.4L41.5,192.6L42.0,192.7L42.5,192.8L43.0,192.9L43.5,193.1L44.0,193.2L44.5,193.3L45.0,193.4L45.5,193.6L46.0,193.7L46.5,193.8L47.0,193.9L47.5,194.1L48.0,194.2L48.5,194.3L49.0,194.4L49.5,194.6L50.0,194.7L50.5,194.8L51.0,194.9L51.5,195.1L52.0,195.2L52.5,195.3L53.0,195.5L53.5,195.6L54.0,195.7L54.5,195.9L55.0,196.0L55.5,196.2L56.0,196.3L56.5,196.4L57.0,196.6L57.5,196.7L58.0,196.9L58.5,197.0L59.0,197.2L59.5,197.3L60.0,197.5L60.5,197.7L61.0,197.8L61.5,198.0L62.0,198.2L62.5,198.3L63.0,198.5L63.5,198.7L64.0,198.9L64.5,199.0L65.0,199.2L65.5,199.4L66.0,199.6L66.5,199.8L67.0,200.0L67.5,200.2L68.0,200.4L68.5,200.6L69.0,200.8L69.5,201.1L70.0,201.3L70.5,201.5L71.0,201.7L71.5,202.0L72.0,202.2L72.5,202.5L73.0,202.7L73.5,203.0L74.0,203.2L74.5,203.5L75.0,203.8L75.5,204.0L76.0,204.3L76.5,204.6L77.0,204.9L77.5,205.2L78.0,205.5L78.5,205.8L79.0,206.1L79.5,206.4L80.0,206.8L80.5,207.1L81.0,207.4L81.5,207.8L82.0,208.1L82.5,208.5L83.0,208.8L83.5,209.2L84.0,209.6L84.5,210.0L85.0,210.4L85.5,210.8L86.0,211.2L86.5,211.6L87.0,212.0L87.5,212.4L88.0,212.8L88.5,213.3L89.0,213.7L89.5,214.2L90.0,214.6L90.5,215.1L91.0,215.6L91.5,216.1L92.0,216.6L92.5,217.1L93.0,217.6L93.5,218.1L94.0,218.6L94.5,219.1L95.0,219.7L95.5,220.2L96.0,220.8L96.5,221.4L97.0,221.9L97.5,222.5L98.0,223.1L98.5,223.7L99.0,224.3L99.5,225.0L100.0,225.6L169.3,307.8" stroke="#fbb012" stroke-width="3.7" fill="none" stroke-linecap="round" stroke-linejoin="round"/>
<path d="M23.5,186.8L23.7,187.0L24.0,187.3L24.3,187.7L24.7,188.1L25.1,188.6L25.5,189.0L25.9,189.5L26.3,190.0L26.6,190.4L26.9,190.8L27.2,191.2L27.5,191.7L27.9,192.1L28.2,192.6L28.5,193.0L28.9,193.5L29.2,193.9L29.6,194.3L30.0,194.7L30.3,195.0L30.7,195.4L31.1,195.8L31.5,196.2L31.9,196.5L32.3,196.9L32.7,197.2L33.1,197.5L33.6,197.8L34.0,198.1L34.5,198.3L34.9,198.6L35.4,198.7L35.9,198.9L36.4,199.1L36.9,199.2L37.4,199.4L37.9,199.5L38.4,199.6L38.9,199.7L39.4,199.8L40.0,199.9L40.6,200.0L41.2,200.1L41.8,200.1L42.4,200.2L43.0,200.2L43.6,200.2L44.1,200.3L44.5,200.3L44.8,200.3L45.3,200.5L45.8,200.8L46.3,201.0L46.8,201.2L47.3,201.4L47.8,201.6L48.3,201.8L48.8,202.0L49.3,202.2L49.8,202.4L50.3,202.6L50.8,202.8L51.3,203.0L51.8,203.2L52.3,203.4L52.8,203.5L53.3,203.7L53.8,203.9L54.3,204.0L54.8,204.2L55.3,204.4L55.8,204.5L56.3,204.7L56.8,204.8L57.3,205.0L57.8,205.1L58.3,205.2L58.8,205.4L59.3,205.5L59.8,205.7L60.3,205.8L60.8,205.9L61.3,206.0L61.8,206.2L62.3,206.3L62.8,206.4L63.3,206.5L63.8,206.7L64.3,206.8L64.8,206.9L65.3,207.0L65.8,207.1L66.3,207.2L66.8,207.4L67.3,207.5L67.8,207.6L68.3,207.7L68.8,207.8L69.3,207.9L69.8,208.0L70.3,208.1L70.8,208.2L71.3,208.3L71.8,208.4L72.3,208.5L72.8,208.6L73.3,208.8L73.8,208.9L74.3,209.0L74.8,209.1L75.3,209.2L75.8,209.3L76.3,209.4L76.8,209.5L77.3,209.6L77.8,209.7L78.3,209.8L78.8,209.9L79.3,210.0L79.8,210.2L80.3,210.3L80.8,210.4L81.3,210.5L81.8,210.6L82.3,210.7L82.8,210.9L83.3,211.0L83.8,211.1L84.3,211.2L84.8,211.4L85.3,211.5L85.8,211.6L86.3,211.8L86.8,211.9L87.3,212.0L87.8,212.2L88.3,212.3L88.8,212.5L89.3,212.6L89.8,212.8L90.3,212.9L90.8,213.1L91.3,213.2L91.8,213.4L92.3,213.6L92.8,213.7L93.3,213.9L93.8,214.1L94.3,214.3L94.8,214.4L95.3,214.6L95.8,214.8L96.3,215.0L96.8,215.2L97.3,215.4L97.8,215.6L98.3,215.8L98.8,216.0L99.3,216.2L99.8,216.5L100.3,216.7L100.8,216.9L101.3,217.2L101.8,217.4L102.3,217.6L102.8,217.9L103.3,218.2L103.8,218.4L104.3,218.7L104.8,218.9L105.3,219.2L105.8,219.5L106.3,219.8L106.8,220.1L107.3,220.4L107.8,220.7L108.3,221.0L108.8,221.3L109.3,221.6L109.8,221.9L110.3,222.3L110.8,222.6L111.3,223.0L111.8,223.3L112.3,223.7L112.8,224.0L113.3,224.4L113.8,224.8L114.3,225.2L114.8,225.5L115.3,225.9L115.8,226.3L116.3,226.8L116.8,227.2L117.3,227.6L117.8,228.0L118.3,228.5L118.8,228.9L119.3,229.4L119.8,229.8L120.3,230.3L120.8,230.8L121.3,231.3L121.8,231.8L122.3,232.3L122.8,232.8L123.3,233.3L123.8,233.8L124.3,234.3L124.8,234.9L125.3,235.4L125.8,236.0L126.3,236.5L126.8,237.1L127.3,237.7L127.8,238.3L128.3,238.9L128.8,239.5L129.3,240.1L129.8,240.7L130.3,241.4L130.8,242.0L131.3,242.6L131.8,243.3L132.3,244.0L132.8,244.6L133.3,245.3L133.8,246.0L134.3,246.7L134.8,247.4L135.3,248.1L135.8,248.8L136.3,249.6L136.8,250.3L137.3,251.1L137.8,251.8L138.3,252.6L138.8,253.4L139.3,254.2L139.8,255.0L140.3,255.8L140.8,256.6L141.3,257.4L141.8,258.2L142.3,259.1L142.8,259.9L143.3,260.8L143.8,261.6L144.3,262.5L144.8,263.3L145.3,264.2L145.8,265.1L146.3,266.0L146.8,266.9L147.3,267.8L147.8,268.7L148.3,269.6L148.8,270.5L149.3,271.4L149.8,272.3L150.3,273.2L150.8,274.1L151.3,275.0L151.8,275.9L152.3,276.8L152.8,277.7L153.3,278.6L153.8,279.5L154.3,280.4L154.8,281.3L155.3,282.1L155.8,283.0L156.3,283.9L156.8,284.8L157.3,285.6L157.8,286.5L158.3,287.3L158.8,288.1L159.3,289.0L159.8,289.8L160.3,290.6L160.8,291.4L161.3,292.2L161.8,292.9L162.3,293.7L162.8,294.4L163.3,295.1L163.8,295.8L164.3,296.5L164.8,297.2L165.3,297.9L165.8,298.5L166.3,299.1L166.8,299.7L167.3,300.3L167.8,300.8L168.3,301.4L168.8,301.9L169.3,302.4" stroke="#3c0c4e" stroke-width="3.3" fill="none" stroke-linecap="round" stroke-linejoin="round"/>
<path d="M41.73,186.75V325" stroke="#ef4048" stroke-width="0.9" stroke-dasharray="2.4 1 0.8 1" fill="none"/>
<path d="M23.5,246.5H169.3" stroke="#161616" stroke-width="1.2" stroke-dasharray="4.1 3.45" fill="none"/>
</g>
<rect x="23.5" y="186.75" width="145.8" height="138.25" stroke="#959595" stroke-width="0.85" fill="none"/>
<path d="M23.5,325v-1.4M23.5,186.75v1.4M41.73,325v-1.4M41.73,186.75v1.4M59.95,325v-1.4M59.95,186.75v1.4M78.18,325v-1.4M78.18,186.75v1.4M96.4,325v-1.4M96.4,186.75v1.4M114.62,325v-1.4M114.62,186.75v1.4M132.85,325v-1.4M132.85,186.75v1.4M151.08,325v-1.4M151.08,186.75v1.4M169.3,325v-1.4M169.3,186.75v1.4M23.5,186.75h1.4M169.3,186.75h-1.4M23.5,206.5h1.4M169.3,206.5h-1.4M23.5,226.25h1.4M169.3,226.25h-1.4M23.5,246h1.4M169.3,246h-1.4M23.5,265.75h1.4M169.3,265.75h-1.4M23.5,285.5h1.4M169.3,285.5h-1.4M23.5,305.25h1.4M169.3,305.25h-1.4M23.5,325h1.4M169.3,325h-1.4" stroke="#959595" stroke-width="0.6" fill="none"/>
<text x="23.5" y="333.9" text-anchor="middle" class="tk">0</text>
<text x="41.73" y="333.9" text-anchor="middle" class="tk">100</text>
<text x="59.95" y="333.9" text-anchor="middle" class="tk">200</text>
<text x="78.18" y="333.9" text-anchor="middle" class="tk">300</text>
<text x="96.4" y="333.9" text-anchor="middle" class="tk">400</text>
<text x="114.62" y="333.9" text-anchor="middle" class="tk">500</text>
<text x="132.85" y="333.9" text-anchor="middle" class="tk">600</text>
<text x="151.08" y="333.9" text-anchor="middle" class="tk">700</text>
<text x="169.3" y="333.9" text-anchor="middle" class="tk">800</text>
<text x="21.5" y="189.25" text-anchor="end" class="tk">1</text>
<text x="21.5" y="209" text-anchor="end" class="tk">0.9</text>
<text x="21.5" y="228.75" text-anchor="end" class="tk">0.8</text>
<text x="21.5" y="248.5" text-anchor="end" class="tk">0.7</text>
<text x="21.5" y="268.25" text-anchor="end" class="tk">0.6</text>
<text x="21.5" y="288" text-anchor="end" class="tk">0.5</text>
<text x="21.5" y="307.75" text-anchor="end" class="tk">0.4</text>
<text x="21.5" y="327.5" text-anchor="end" class="tk">0.3</text>
<text x="96.4" y="341.2" text-anchor="middle" class="lb">Cycles</text>
<text x="9.3" y="255.88" transform="rotate(-90 9.3 255.88)" text-anchor="middle" class="lb">SOH/%</text>
<path d="M233.04,186.75V325M251.28,186.75V325M269.51,186.75V325M287.75,186.75V325M305.99,186.75V325M324.23,186.75V325M342.46,186.75V325M214.8,206.5H360.7M214.8,226.25H360.7M214.8,246H360.7M214.8,265.75H360.7M214.8,285.5H360.7M214.8,305.25H360.7" stroke="#e6e6e6" stroke-width="0.6" fill="none"/>
<clipPath id="c214_186"><rect x="214.3" y="184.25" width="148.9" height="140.75"/></clipPath>
<g clip-path="url(#c214_186)">
<path d="M214.8,186.8L216.0,187.8L217.4,189.1L218.3,190.0L219.3,191.1L220.3,192.3L221.4,193.6L222.5,194.8L223.7,195.8L225.0,196.7L226.4,197.5L227.8,198.2L229.3,198.8L230.7,199.3L232.2,199.6L233.8,200.0L235.3,200.3L236.8,200.6L238.3,201.0L239.8,201.4L241.2,201.7L242.8,201.5L243.8,203.0L245.2,202.0L246.2,203.6L247.6,203.0L249.2,203.6L250.8,204.2L252.2,204.0L253.7,203.9L255.2,204.0L256.2,204.0L257.2,205.5L258.8,205.3L260.3,205.1L261.3,206.8L262.8,205.9L263.8,206.4L265.3,206.5L266.8,207.6L268.3,207.9L269.8,208.3L271.3,208.0L272.3,208.3L273.3,208.5L274.3,209.0L275.8,209.0L276.8,209.3L277.8,211.2L279.3,211.7L280.8,210.7L281.8,210.7L282.3,211.3L283.2,212.6L284.6,213.4L286.0,212.5L286.5,213.8L287.9,213.3L288.3,214.6L289.7,215.5L290.9,216.9L292.3,216.3L293.1,217.9L294.3,218.9L295.9,220.2L297.4,219.6L297.8,220.9L299.0,222.9L300.5,223.0L301.4,224.6L302.6,225.1L303.8,226.6L304.9,227.1L306.0,227.0L306.3,227.4L307.1,228.2L307.6,228.9L308.5,231.0L309.9,231.4L311.3,232.5L312.7,232.5L314.2,233.1L315.6,234.2L316.9,235.3L318.1,236.2L319.7,237.2L321.0,236.8L321.7,237.9L322.9,238.2L323.3,239.5L324.5,240.9L325.8,240.3L326.4,240.9L327.3,241.5L328.9,241.6L330.0,243.0L331.5,242.6L332.5,244.2L333.2,245.3L333.8,247.0L334.4,249.0L335.6,250.6L336.9,249.7L338.2,250.2L338.6,248.7L340.1,247.3L340.9,248.1L342.2,249.3L343.5,251.5L344.8,251.8L345.5,252.2L345.7,254.3L346.5,254.8L346.7,256.3L346.9,258.2L347.2,259.5L347.4,261.0L347.6,262.8L347.8,263.4L347.9,265.0L348.1,266.2L348.3,268.7L348.8,270.7L349.3,271.1L349.5,271.8L349.7,273.2L350.1,275.2L350.5,276.1L350.7,277.2L351.0,279.4L351.6,281.7L352.3,282.8L352.7,284.8L353.5,283.2L353.8,281.0L354.2,279.8L354.5,278.8L354.9,278.4L355.7,280.5L356.3,282.6L357.8,283.8L358.9,285.1L359.6,286.5L359.9,288.3L360.1,290.4L360.2,291.4L360.3,292.1L360.3,292.9L360.3,293.8L360.3,295.1L360.3,297.1L360.3,297.9L360.3,299.3L360.3,301.2L360.3,301.9L360.3,302.7L360.3,303.7L360.3,304.6L360.3,306.6L360.3,307.7L360.3,308.3L360.2,310.6L360.2,312.6L360.2,314.2L360.2,315.2M225.81,197.16V213.9M229.81,198.96V219.9M230.81,199.29V220.4M235.21,200.25V221M236.21,200.48V221.2M246.32,203.55V222.2M252.23,204.03V225.7M256.53,204.49V222.4M271.74,208.16V230M276.14,209.11V228.3M285.25,213V232.2M306.96,228.05V232.2M311.87,232.46V247M327.88,241.57V267.7M336.88,249.72V264M352.39,283.29V310.3" stroke="#1a80c8" stroke-width="1.5" fill="none" stroke-linejoin="round"/>
<path d="M224.81,213.9h2M225.81,212.9v2" stroke="#fa5716" stroke-width="0.8"/>
<path d="M228.81,219.9h2M229.81,218.9v2" stroke="#fa5716" stroke-width="0.8"/>
<path d="M229.81,220.4h2M230.81,219.4v2" stroke="#fa5716" stroke-width="0.8"/>
<path d="M234.21,221h2M235.21,220v2" stroke="#fa5716" stroke-width="0.8"/>
<path d="M235.21,221.2h2M236.21,220.2v2" stroke="#fa5716" stroke-width="0.8"/>
<path d="M245.32,222.2h2M246.32,221.2v2" stroke="#fa5716" stroke-width="0.8"/>
<path d="M214.8,186.8L215.0,186.9L215.4,187.1L215.7,187.3L216.1,187.5L216.6,187.8L217.0,188.1L217.5,188.4L218.0,188.7L218.6,189.0L219.1,189.3L219.5,189.7L220.0,190.0L220.4,190.3L220.8,190.6L221.2,190.9L221.5,191.2L221.9,191.5L222.3,191.9L222.7,192.2L223.1,192.5L223.5,192.9L223.9,193.2L224.3,193.5L224.8,193.9L225.2,194.2L225.6,194.5L226.0,194.8L226.4,195.1L226.8,195.4L227.2,195.6L227.6,195.9L228.0,196.2L228.4,196.5L228.9,196.8L229.3,197.0L229.7,197.3L230.2,197.6L230.6,197.8L231.1,198.0L231.5,198.3L232.0,198.5L232.5,198.7L232.9,198.9L233.4,199.1L233.8,199.2L234.3,199.4L234.7,199.5L235.2,199.7L235.7,199.8L236.2,200.0L236.7,200.1L237.2,200.3L237.7,200.4L238.3,200.6L238.8,200.7L239.4,200.8L240.0,201.0L240.4,201.1L240.9,201.2L241.3,201.3L241.8,201.5L242.3,201.6L242.8,201.7L243.3,201.8L243.9,201.9L244.4,202.1L244.9,202.2L245.5,202.3L246.0,202.4L246.5,202.5L247.1,202.6L247.6,202.7L248.1,202.9L248.6,203.0L249.1,203.1L249.6,203.2L250.0,203.3L250.5,203.3L250.9,203.4L251.3,203.5L252.0,203.6L252.7,203.7L253.3,203.8L253.9,203.9L254.5,204.0L255.1,204.1L255.6,204.1L256.1,204.2L256.6,204.2L257.0,204.3L257.4,204.3L257.7,204.4L258.0,204.4L360.7,204.4" stroke="#fa5716" stroke-width="3.1" fill="none" stroke-linecap="round" stroke-linejoin="round"/>
<path d="M213.68,186.36h2.6M214.98,185.06v2.6M215.78,187.12h2.6M217.08,185.82v2.6M217.93,188.69h2.6M219.23,187.39v2.6M219.95,192.07h2.6M221.25,190.77v2.6M221.78,193.1h2.6M223.08,191.8v2.6M223.54,194.26h2.6M224.84,192.96v2.6M226.3,194.64h2.6M227.6,193.34v2.6M228.14,196.99h2.6M229.44,195.69v2.6M230.35,198.58h2.6M231.65,197.28v2.6M232.59,198.53h2.6M233.89,197.23v2.6M234.5,199.99h2.6M235.8,198.69v2.6M237.38,201.16h2.6M238.68,199.86v2.6M239.93,200.41h2.6M241.23,199.11v2.6M242.32,200.86h2.6M243.62,199.56v2.6M245.31,201.86h2.6M246.61,200.56v2.6M247.58,203.49h2.6M248.88,202.19v2.6M249.91,203.69h2.6M251.21,202.39v2.6" stroke="#fa5716" stroke-width="0.9" fill="none"/>
<path d="M214.8,186.7L215.3,186.9L215.8,187.0L216.3,187.1L216.8,187.2L217.3,187.3L217.8,187.5L218.3,187.6L218.8,187.7L219.3,187.8L219.8,187.9L220.3,188.0L220.8,188.2L221.3,188.3L221.8,188.4L222.3,188.5L222.8,188.6L223.3,188.7L223.8,188.8L224.3,188.9L224.8,189.0L225.3,189.2L225.8,189.3L226.3,189.4L226.8,189.5L227.3,189.6L227.8,189.7L228.3,189.8L228.8,189.9L229.3,190.0L229.8,190.1L230.3,190.3L230.8,190.4L231.3,190.5L231.8,190.6L232.3,190.7L232.8,190.8L233.3,190.9L233.8,191.1L234.3,191.2L234.8,191.3L235.3,191.4L235.8,191.5L236.3,191.6L236.8,191.8L237.3,191.9L237.8,192.0L238.3,192.1L238.8,192.3L239.3,192.4L239.8,192.5L240.3,192.6L240.8,192.8L241.3,192.9L241.8,193.0L242.3,193.2L242.8,193.3L243.3,193.4L243.8,193.6L244.3,193.7L244.8,193.8L245.3,194.0L245.8,194.1L246.3,194.3L246.8,194.4L247.3,194.6L247.8,194.7L248.3,194.9L248.8,195.0L249.3,195.2L249.8,195.4L250.3,195.5L250.8,195.7L251.3,195.9L251.8,196.0L252.3,196.2L252.8,196.4L253.3,196.6L253.8,196.7L254.3,196.9L254.8,197.1L255.3,197.3L255.8,197.5L256.3,197.7L256.8,197.9L257.3,198.1L257.8,198.3L258.3,198.5L258.8,198.7L259.3,198.9L259.8,199.1L260.3,199.3L260.8,199.5L261.3,199.8L261.8,200.0L262.3,200.2L262.8,200.4L263.3,200.7L263.8,200.9L264.3,201.2L264.8,201.4L265.3,201.6L265.8,201.9L266.3,202.2L266.8,202.4L267.3,202.7L267.8,203.0L268.3,203.2L268.8,203.5L269.3,203.8L269.8,204.1L270.3,204.3L270.8,204.6L271.3,204.9L271.8,205.2L272.3,205.5L272.8,205.8L273.3,206.2L273.8,206.5L274.3,206.8L274.8,207.1L275.3,207.4L275.8,207.8L276.3,208.1L276.8,208.5L277.3,208.8L277.8,209.2L278.3,209.5L278.8,209.9L279.3,210.3L279.8,210.6L280.3,211.0L280.8,211.4L281.3,211.8L281.8,212.2L282.3,212.6L282.8,213.0L283.3,213.4L283.8,213.8L284.3,214.2L284.8,214.6L285.3,215.1L285.8,215.5L286.3,215.9L286.8,216.4L287.3,216.8L287.8,217.3L288.3,217.7L288.8,218.2L289.3,218.7L289.8,219.2L290.3,219.6L290.8,220.1L291.3,220.6L291.8,221.1L292.3,221.6L292.8,222.2L293.3,222.7L293.8,223.2L294.3,223.7L294.8,224.3L295.3,224.8L295.8,225.4L296.3,225.9L296.8,226.5L297.3,227.1L297.8,227.6L298.3,228.2L298.8,228.8L299.3,229.4L299.8,230.0L300.3,230.6L300.8,231.2L301.3,231.8L301.8,232.4L302.3,233.0L302.8,233.6L303.3,234.2L303.8,234.9L304.3,235.5L304.8,236.1L305.3,236.8L305.8,237.4L306.3,238.1L306.8,238.7L307.3,239.4L307.8,240.0L308.3,240.7L308.8,241.3L309.3,242.0L309.8,242.6L310.3,243.3L310.8,244.0L311.3,244.7L311.8,245.3L312.3,246.0L312.8,246.7L313.3,247.4L313.8,248.0L314.3,248.7L314.8,249.4L315.3,250.1L315.8,250.8L316.3,251.4L316.8,252.1L317.3,252.8L317.8,253.5L318.3,254.2L318.8,254.9L319.3,255.6L319.8,256.3L320.3,256.9L320.8,257.6L321.3,258.3L321.8,259.0L322.3,259.7L322.8,260.4L323.3,261.1L323.8,261.7L324.3,262.4L324.8,263.1L325.3,263.8L325.8,264.5L326.3,265.1L326.8,265.8L327.3,266.5L327.8,267.2L328.3,267.8L328.8,268.5L329.3,269.2L329.8,269.8L330.3,270.5L330.8,271.2L331.3,271.8L331.8,272.5L332.3,273.1L332.8,273.8L333.3,274.5L333.8,275.1L334.3,275.8L334.8,276.4L335.3,277.1L335.8,277.7L336.3,278.4L336.8,279.0L337.3,279.6L337.8,280.3L338.3,280.9L338.8,281.6L339.3,282.2L339.8,282.8L340.3,283.5L340.8,284.1L341.3,284.7L341.8,285.4L342.3,286.0L342.8,286.6L343.3,287.3L343.8,287.9L344.3,288.5L344.8,289.1L345.3,289.8L345.8,290.4L346.3,291.0L346.8,291.6L347.3,292.2L347.8,292.9L348.3,293.5L348.8,294.1L349.3,294.7L349.8,295.3L350.3,295.9L350.8,296.6L351.3,297.2L351.8,297.8L352.3,298.4L352.8,299.0L353.3,299.6L353.8,300.2L354.3,300.8L354.8,301.4L355.3,302.0L355.8,302.6L356.3,303.2L356.8,303.8L357.3,304.4L357.8,305.0L358.3,305.6L358.8,306.2L359.3,306.8L359.8,307.4L360.3,308.0L360.7,308.5" stroke="#fbb012" stroke-width="3.7" fill="none" stroke-linecap="round" stroke-linejoin="round"/>
<path d="M214.8,186.8L215.0,187.0L215.2,187.3L215.5,187.6L215.7,188.0L216.1,188.4L216.4,188.9L216.8,189.4L217.2,189.9L217.6,190.5L218.0,191.0L218.3,191.3L218.5,191.7L218.8,192.1L219.0,192.5L219.3,193.0L219.6,193.4L219.9,193.8L220.2,194.3L220.5,194.8L220.8,195.2L221.1,195.6L221.5,196.1L221.8,196.5L222.2,196.8L222.6,197.2L223.0,197.5L223.4,197.8L223.8,198.0L224.2,198.3L224.7,198.4L225.2,198.6L225.7,198.8L226.2,198.9L226.7,199.0L227.2,199.1L227.8,199.2L228.3,199.3L228.8,199.4L229.4,199.5L229.9,199.6L230.4,199.7L230.9,199.7L231.4,199.8L231.9,199.9L232.3,200.0L232.9,200.1L233.5,200.2L234.0,200.3L234.6,200.4L235.1,200.5L235.7,200.6L236.2,200.7L236.7,200.8L237.2,200.9L237.7,201.0L238.1,201.0L238.6,201.1L239.0,201.2L239.6,201.3L240.1,201.5L240.6,201.6L241.0,201.8L241.4,201.9L241.8,202.0L242.3,202.1L242.8,202.2L243.4,202.3L243.8,202.3L244.3,202.3L244.8,202.3L245.4,202.3L245.9,202.3L246.5,202.3L247.0,202.2L247.6,202.2L248.1,202.2L248.7,202.2L249.2,202.2L249.7,202.2L250.1,202.3L250.7,202.4L251.3,202.6L251.9,202.8L252.5,203.0L253.0,203.3L253.5,203.5L253.9,203.7L254.3,203.9L254.6,204.0L255.1,204.3L255.6,204.5L256.1,204.8L256.6,205.1L257.1,205.3L257.6,205.6L258.1,205.8L258.6,206.0L259.1,206.3L259.6,206.5L260.1,206.7L260.6,207.0L261.1,207.2L261.6,207.4L262.1,207.6L262.6,207.8L263.1,208.0L263.6,208.3L264.1,208.5L264.6,208.7L265.1,208.9L265.6,209.0L266.1,209.2L266.6,209.4L267.1,209.6L267.6,209.8L268.1,210.0L268.6,210.2L269.1,210.3L269.6,210.5L270.1,210.7L270.6,210.9L271.1,211.0L271.6,211.2L272.1,211.4L272.6,211.6L273.1,211.7L273.6,211.9L274.1,212.1L274.6,212.2L275.1,212.4L275.6,212.6L276.1,212.7L276.6,212.9L277.1,213.1L277.6,213.2L278.1,213.4L278.6,213.5L279.1,213.7L279.6,213.9L280.1,214.0L280.6,214.2L281.1,214.4L281.6,214.5L282.1,214.7L282.6,214.9L283.1,215.1L283.6,215.2L284.1,215.4L284.6,215.6L285.1,215.8L285.6,215.9L286.1,216.1L286.6,216.3L287.1,216.5L287.6,216.7L288.1,216.9L288.6,217.1L289.1,217.3L289.6,217.5L290.1,217.7L290.6,217.9L291.1,218.1L291.6,218.3L292.1,218.5L292.6,218.7L293.1,218.9L293.6,219.2L294.1,219.4L294.6,219.6L295.1,219.8L295.6,220.1L296.1,220.3L296.6,220.6L297.1,220.8L297.6,221.1L298.1,221.3L298.6,221.6L299.1,221.9L299.6,222.1L300.1,222.4L300.6,222.7L301.1,223.0L301.6,223.3L302.1,223.6L302.6,223.9L303.1,224.2L303.6,224.5L304.1,224.8L304.6,225.2L305.1,225.5L305.6,225.8L306.1,226.2L306.6,226.5L307.1,226.9L307.6,227.3L308.1,227.6L308.6,228.0L309.1,228.4L309.6,228.8L310.1,229.2L310.6,229.6L311.1,230.0L311.6,230.4L312.1,230.9L312.6,231.3L313.1,231.8L313.6,232.2L314.1,232.7L314.6,233.1L315.1,233.6L315.6,234.1L316.1,234.6L316.6,235.1L317.1,235.6L317.6,236.1L318.1,236.7L318.6,237.2L319.1,237.7L319.6,238.3L320.1,238.9L320.6,239.4L321.1,240.0L321.6,240.6L322.1,241.2L322.6,241.8L323.1,242.4L323.6,243.0L324.1,243.6L324.6,244.2L325.1,244.9L325.6,245.5L326.1,246.1L326.6,246.8L327.1,247.4L327.6,248.1L328.1,248.8L328.6,249.5L329.1,250.1L329.6,250.8L330.1,251.5L330.6,252.2L331.1,252.9L331.6,253.6L332.1,254.4L332.6,255.1L333.1,255.8L333.6,256.5L334.1,257.3L334.6,258.0L335.1,258.8L335.6,259.5L336.1,260.3L336.6,261.1L337.1,261.8L337.6,262.6L338.1,263.4L338.6,264.2L339.1,265.0L339.6,265.8L340.1,266.5L340.6,267.3L341.1,268.2L341.6,269.0L342.1,269.8L342.6,270.6L343.1,271.4L343.6,272.2L344.1,273.1L344.6,273.9L345.1,274.7L345.6,275.6L346.1,276.4L346.6,277.2L347.1,278.1L347.6,278.9L348.1,279.8L348.6,280.6L349.1,281.5L349.6,282.3L350.1,283.1L350.6,284.0L351.1,284.8L351.6,285.6L352.1,286.3L352.6,287.1L353.1,287.8L353.6,288.6L354.1,289.3L354.6,289.9L355.1,290.6L355.6,291.2L356.1,291.8L356.6,292.4L357.1,292.9L357.6,293.4L358.1,293.8L358.6,294.2L359.1,294.6L359.6,294.9L360.1,295.2L360.6,295.5L360.7,295.5" stroke="#3c0c4e" stroke-width="3.3" fill="none" stroke-linecap="round" stroke-linejoin="round"/>
<path d="M251.28,186.75V325" stroke="#ef4048" stroke-width="0.9" stroke-dasharray="2.4 1 0.8 1" fill="none"/>
<path d="M214.8,246.5H360.7" stroke="#161616" stroke-width="1.2" stroke-dasharray="4.1 3.45" fill="none"/>
</g>
<rect x="214.8" y="186.75" width="145.9" height="138.25" stroke="#959595" stroke-width="0.85" fill="none"/>
<path d="M214.8,325v-1.4M214.8,186.75v1.4M233.04,325v-1.4M233.04,186.75v1.4M251.28,325v-1.4M251.28,186.75v1.4M269.51,325v-1.4M269.51,186.75v1.4M287.75,325v-1.4M287.75,186.75v1.4M305.99,325v-1.4M305.99,186.75v1.4M324.23,325v-1.4M324.23,186.75v1.4M342.46,325v-1.4M342.46,186.75v1.4M360.7,325v-1.4M360.7,186.75v1.4M214.8,186.75h1.4M360.7,186.75h-1.4M214.8,206.5h1.4M360.7,206.5h-1.4M214.8,226.25h1.4M360.7,226.25h-1.4M214.8,246h1.4M360.7,246h-1.4M214.8,265.75h1.4M360.7,265.75h-1.4M214.8,285.5h1.4M360.7,285.5h-1.4M214.8,305.25h1.4M360.7,305.25h-1.4M214.8,325h1.4M360.7,325h-1.4" stroke="#959595" stroke-width="0.6" fill="none"/>
<text x="214.8" y="333.9" text-anchor="middle" class="tk">0</text>
<text x="233.04" y="333.9" text-anchor="middle" class="tk">100</text>
<text x="251.28" y="333.9" text-anchor="middle" class="tk">200</text>
<text x="269.51" y="333.9" text-anchor="middle" class="tk">300</text>
<text x="287.75" y="333.9" text-anchor="middle" class="tk">400</text>
<text x="305.99" y="333.9" text-anchor="middle" class="tk">500</text>
<text x="324.23" y="333.9" text-anchor="middle" class="tk">600</text>
<text x="342.46" y="333.9" text-anchor="middle" class="tk">700</text>
<text x="360.7" y="333.9" text-anchor="middle" class="tk">800</text>
<text x="212.8" y="189.25" text-anchor="end" class="tk">1</text>
<text x="212.8" y="209" text-anchor="end" class="tk">0.9</text>
<text x="212.8" y="228.75" text-anchor="end" class="tk">0.8</text>
<text x="212.8" y="248.5" text-anchor="end" class="tk">0.7</text>
<text x="212.8" y="268.25" text-anchor="end" class="tk">0.6</text>
<text x="212.8" y="288" text-anchor="end" class="tk">0.5</text>
<text x="212.8" y="307.75" text-anchor="end" class="tk">0.4</text>
<text x="212.8" y="327.5" text-anchor="end" class="tk">0.3</text>
<text x="287.75" y="341.2" text-anchor="middle" class="lb">Cycles</text>
<text x="200.6" y="255.88" transform="rotate(-90 200.6 255.88)" text-anchor="middle" class="lb">SOH/%</text>
<path d="M41.67,376.6V511.3M59.85,376.6V511.3M78.03,376.6V511.3M96.2,376.6V511.3M114.38,376.6V511.3M132.55,376.6V511.3M150.73,376.6V511.3M23.5,391.57H168.9M23.5,406.53H168.9M23.5,421.5H168.9M23.5,436.47H168.9M23.5,451.43H168.9M23.5,466.4H168.9M23.5,481.37H168.9M23.5,496.33H168.9" stroke="#e6e6e6" stroke-width="0.6" fill="none"/>
<clipPath id="c23_376"><rect x="23" y="374.1" width="148.4" height="137.2"/></clipPath>
<g clip-path="url(#c23_376)">
<path d="M23.5,376.6L23.9,378.1L24.4,379.7L24.8,380.9L25.2,382.0L25.8,383.6L26.6,384.9L27.5,386.1L28.5,387.1L29.6,388.1L30.7,389.2L31.9,390.2L33.0,391.2L34.2,392.2L35.3,393.4L36.3,394.4L37.3,395.6L38.3,396.8L39.3,398.1L40.3,399.4L41.1,400.8L42.0,402.4L42.5,403.5L43.3,405.0L44.2,406.2L45.5,406.3L47.0,407.2L48.0,405.8L49.4,405.4L50.8,406.0L52.1,406.1L53.5,406.4L55.2,404.9L56.3,405.1L57.1,406.1L58.2,407.7L59.6,408.6L60.5,407.5L62.0,405.8L63.6,405.3L64.9,406.6L66.4,406.6L67.1,408.0L67.8,409.9L69.0,409.1L69.5,410.5L71.0,411.7L72.0,410.6L73.1,411.5L74.5,412.7L76.0,411.6L77.0,412.7L78.4,413.9L79.7,414.7L81.1,415.3L82.4,415.6L83.4,416.6L84.8,416.8L86.3,417.4L87.7,417.7L89.1,419.4L90.4,420.1L91.8,419.8L93.3,420.5L94.5,419.7L96.1,419.8L97.5,419.9L98.1,421.3L99.0,422.1L100.0,422.9L101.2,423.7L102.6,423.2L104.2,424.3L105.3,422.9L106.5,424.1L108.1,423.7L109.5,424.1L111.0,424.9L112.6,425.1L114.1,425.3L115.6,425.0L116.1,425.4L117.0,427.0L118.4,427.3L119.8,428.4L121.1,429.7L122.4,430.0L123.6,429.6L124.0,430.4L124.7,431.6L125.9,432.0L126.6,434.3L127.9,435.9L129.1,437.5L130.3,438.4L131.3,440.5L132.5,441.0L132.8,441.8L133.4,442.9L134.3,444.5L135.6,444.9L137.0,444.4L138.0,445.0L139.0,445.4L140.0,446.3L140.7,446.8L141.4,448.1L142.1,449.1L143.2,451.0L144.4,452.6L145.4,453.5L146.3,454.6L147.4,456.6L148.8,458.2L150.1,459.2L151.2,460.6L152.4,462.0L153.6,461.4L154.0,463.4L155.5,463.7L156.1,464.7L157.3,466.4L158.6,467.4L159.8,467.2L160.6,468.9L161.7,468.6L162.1,469.5L163.1,471.3L164.3,471.6L165.2,472.8L166.4,474.4L167.5,475.8L168.7,476.9L168.9,476.6M26.5,384.8V412.4M34.8,392.81V421M39.1,397.79V430.9M41.1,400.81V435.2M43.6,405.38V437M46.5,406.93V434.1M57.4,406.51V437.4M60.6,407.37V439M74.8,412.46V445.7M77.1,412.8V446.6M80.9,415.24V441.8M85.7,417.15V447.6M89.5,419.64V451M117.1,427.04V462.8M125.6,431.91V464.7M128.3,436.48V478.8M146.1,454.31V487.7M150.6,459.78V494.4M160.9,468.79V501M165.8,473.62V505.5M168.4,476.62V492.2" stroke="#1a80c8" stroke-width="1.5" fill="none" stroke-linejoin="round"/>
<path d="M25.5,412.4h2M26.5,411.4v2" stroke="#fa5716" stroke-width="0.8"/>
<path d="M33.8,421h2M34.8,420v2" stroke="#fa5716" stroke-width="0.8"/>
<path d="M38.1,430.9h2M39.1,429.9v2" stroke="#fa5716" stroke-width="0.8"/>
<path d="M40.1,435.2h2M41.1,434.2v2" stroke="#fa5716" stroke-width="0.8"/>
<path d="M23.5,385.0L25.3,385.1L27.0,386.0L28.8,385.6L29.4,388.3L30.2,391.2L31.2,393.7L32.8,394.4L33.9,396.0L35.4,397.9L36.8,399.1L38.2,401.0L39.6,400.8L40.2,402.0L41.5,402.3L43.0,404.4L44.1,402.9L44.9,402.8L45.3,402.6L45.8,402.4L46.2,402.2L46.7,401.9L47.2,401.6L47.7,401.4L48.2,401.1L48.8,400.8L49.3,400.6L49.8,400.3L50.3,400.1L50.8,399.9L51.3,399.7L51.8,399.5L52.3,399.3L52.9,399.1L53.4,398.9L54.0,398.7L54.5,398.6L55.0,398.4L55.6,398.2L56.1,398.0L56.5,397.9L56.9,397.7L57.3,397.6L57.6,397.5L57.9,397.4L58.4,397.3L58.9,397.1L59.4,397.0L59.9,396.8L60.4,396.7L60.9,396.6L61.4,396.4L61.9,396.3L62.4,396.2L62.9,396.1L63.4,395.9L63.9,395.8L64.4,395.7L64.9,395.6L65.4,395.5L65.9,395.3L66.4,395.2L66.9,395.1L67.4,395.0L67.9,394.9L68.4,394.8L68.9,394.7L69.4,394.6L69.9,394.5L70.4,394.4L70.9,394.3L71.4,394.2L71.9,394.1L72.4,394.1L72.9,394.0L73.4,393.9L73.9,393.8L74.4,393.7L74.9,393.6L75.4,393.6L75.9,393.5L76.4,393.4L76.9,393.3L77.4,393.3L77.9,393.2L78.4,393.1L78.9,393.1L79.4,393.0L79.9,392.9L80.4,392.9L80.9,392.8L81.4,392.8L81.9,392.7L82.4,392.7L82.9,392.6L83.4,392.6L83.9,392.5L84.4,392.5L84.9,392.4L85.4,392.4L85.9,392.3L86.4,392.3L86.9,392.2L87.4,392.2L87.9,392.2L88.4,392.1L88.9,392.1L89.4,392.0L89.9,392.0L90.4,392.0L90.9,391.9L91.4,391.9L91.9,391.9L92.4,391.9L92.9,391.8L93.4,391.8L93.9,391.8L94.4,391.8L94.9,391.7L95.4,391.7L95.9,391.7L96.4,391.7L96.9,391.6L97.4,391.6L97.9,391.6L98.4,391.6L98.9,391.6L99.4,391.6L99.9,391.6L100.4,391.5L100.9,391.5L101.4,391.5L101.9,391.5L102.4,391.5L102.9,391.5L103.4,391.5L103.9,391.5L104.4,391.5L104.9,391.5L105.4,391.5L105.9,391.5L106.4,391.5L106.9,391.5L107.4,391.5L107.9,391.5L108.4,391.5L108.9,391.5L109.4,391.5L109.9,391.5L110.4,391.5L110.9,391.5L111.4,391.5L111.9,391.5L112.4,391.5L112.9,391.5L113.4,391.5L113.9,391.5L114.4,391.5L114.9,391.5L115.4,391.5L115.9,391.5L116.4,391.5L116.9,391.5L117.4,391.6L117.9,391.6L118.4,391.6L118.9,391.6L119.4,391.6L119.9,391.6L120.4,391.6L120.9,391.6L121.4,391.6L121.9,391.6L122.4,391.7L122.9,391.7L123.4,391.7L123.9,391.7L124.4,391.7L124.9,391.7L125.4,391.7L125.9,391.7L126.4,391.8L126.9,391.8L127.4,391.8L127.9,391.8L128.4,391.8L128.9,391.8L129.4,391.8L129.9,391.8L130.4,391.9L130.9,391.9L131.4,391.9L131.9,391.9L132.4,391.9L132.9,391.9L133.4,391.9L133.9,391.9L134.4,391.9L134.9,392.0L135.4,392.0L135.9,392.0L136.4,392.0L136.9,392.0L137.4,392.0L137.9,392.0L138.4,392.0L138.9,392.0L139.4,392.0L139.9,392.0L140.4,392.0L140.9,392.1L141.4,392.1L141.9,392.1L142.4,392.1L142.9,392.1L143.4,392.1L143.9,392.1L144.4,392.1L144.9,392.1L145.4,392.1L145.9,392.1L146.4,392.1L146.9,392.1L147.4,392.1L147.9,392.1L148.4,392.1L148.9,392.1L149.4,392.1L149.9,392.1L150.4,392.1L150.9,392.1L151.4,392.1L151.9,392.0L152.4,392.0L152.9,392.0L153.4,392.0L153.9,392.0L154.4,392.0L154.9,392.0L155.4,392.0L155.9,392.0L156.4,391.9L156.9,391.9L157.4,391.9L157.9,391.9L158.4,391.9L158.9,391.8L159.4,391.8L159.9,391.8L160.4,391.8L160.9,391.8L161.4,391.7L161.9,391.7L162.4,391.7L162.9,391.6L163.4,391.6L163.9,391.6L164.4,391.6L164.9,391.5L165.4,391.5L165.9,391.4L166.4,391.4L166.9,391.4L167.4,391.3L167.9,391.3L168.4,391.2L168.9,391.2" stroke="#fa5716" stroke-width="3.1" fill="none" stroke-linecap="round" stroke-linejoin="round"/>
<path d="M22.33,384.34h2.6M23.63,383.04v2.6M26,385.48h2.6M27.3,384.18v2.6M27.79,387.16h2.6M29.09,385.86v2.6M29.09,391.02h2.6M30.39,389.72v2.6M30.18,393.82h2.6M31.48,392.52v2.6M32.63,395.66h2.6M33.93,394.36v2.6M33.84,397.05h2.6M35.14,395.75v2.6M37.27,399.91h2.6M38.57,398.61v2.6M39.18,402.38h2.6M40.48,401.08v2.6" stroke="#fa5716" stroke-width="0.9" fill="none"/>
<path d="M23.5,376.6L24.0,376.9L24.5,377.3L25.0,377.6L25.5,378.0L26.0,378.3L26.5,378.7L27.0,379.0L27.5,379.4L28.0,379.7L28.5,380.1L29.0,380.4L29.5,380.7L30.0,381.1L30.5,381.4L31.0,381.8L31.5,382.1L32.0,382.4L32.5,382.8L33.0,383.1L33.5,383.4L34.0,383.7L34.5,384.1L35.0,384.4L35.5,384.7L36.0,385.0L36.5,385.3L37.0,385.6L37.5,385.9L38.0,386.2L38.5,386.5L39.0,386.8L39.5,387.1L40.0,387.3L40.5,387.6L41.0,387.9L41.5,388.1L42.0,388.4L42.5,388.6L43.0,388.9L43.5,389.1L44.0,389.3L44.5,389.6L45.0,389.8L45.5,390.0L46.0,390.2L46.5,390.4L47.0,390.6L47.5,390.8L48.0,391.0L48.5,391.2L49.0,391.4L49.5,391.6L50.0,391.7L50.5,391.9L51.0,392.1L51.5,392.2L52.0,392.4L52.5,392.6L53.0,392.7L53.5,392.9L54.0,393.0L54.5,393.2L55.0,393.3L55.5,393.4L56.0,393.6L56.5,393.7L57.0,393.9L57.5,394.0L58.0,394.1L58.5,394.2L59.0,394.4L59.5,394.5L60.0,394.6L60.5,394.7L61.0,394.9L61.5,395.0L62.0,395.1L62.5,395.2L63.0,395.3L63.5,395.5L64.0,395.6L64.5,395.7L65.0,395.8L65.5,395.9L66.0,396.0L66.5,396.1L67.0,396.3L67.5,396.4L68.0,396.5L68.5,396.6L69.0,396.7L69.5,396.8L70.0,396.9L70.5,397.0L71.0,397.1L71.5,397.3L72.0,397.4L72.5,397.5L73.0,397.6L73.5,397.7L74.0,397.8L74.5,397.9L75.0,398.0L75.5,398.1L76.0,398.2L76.5,398.4L77.0,398.5L77.5,398.6L78.0,398.7L78.5,398.8L79.0,398.9L79.5,399.0L80.0,399.1L80.5,399.3L81.0,399.4L81.5,399.5L82.0,399.6L82.5,399.7L83.0,399.8L83.5,399.9L84.0,400.1L84.5,400.2L85.0,400.3L85.5,400.4L86.0,400.5L86.5,400.7L87.0,400.8L87.5,400.9L88.0,401.0L88.5,401.2L89.0,401.3L89.5,401.4L90.0,401.6L90.5,401.7L91.0,401.8L91.5,401.9L92.0,402.1L92.5,402.2L93.0,402.4L93.5,402.5L94.0,402.6L94.5,402.8L95.0,402.9L95.5,403.1L96.0,403.2L96.5,403.4L97.0,403.5L97.5,403.7L98.0,403.8L98.5,404.0L99.0,404.1L99.5,404.3L100.0,404.4L100.5,404.6L101.0,404.7L101.5,404.9L102.0,405.1L102.5,405.2L103.0,405.4L103.5,405.6L104.0,405.8L104.5,405.9L105.0,406.1L105.5,406.3L106.0,406.5L106.5,406.7L107.0,406.9L107.5,407.0L108.0,407.2L108.5,407.4L109.0,407.6L109.5,407.8L110.0,408.0L110.5,408.2L111.0,408.4L111.5,408.6L112.0,408.9L112.5,409.1L113.0,409.3L113.5,409.5L114.0,409.7L114.5,409.9L115.0,410.2L115.5,410.4L116.0,410.6L116.5,410.9L117.0,411.1L117.5,411.4L118.0,411.6L118.5,411.9L119.0,412.1L119.5,412.4L120.0,412.6L120.5,412.9L121.0,413.2L121.5,413.4L122.0,413.7L122.5,414.0L123.0,414.3L123.5,414.6L124.0,414.9L124.5,415.2L125.0,415.5L125.5,415.8L126.0,416.1L126.5,416.4L127.0,416.8L127.5,417.1L128.0,417.4L128.5,417.8L129.0,418.1L129.5,418.5L130.0,418.8L130.5,419.2L131.0,419.5L131.5,419.9L132.0,420.3L132.5,420.7L133.0,421.1L133.5,421.5L134.0,421.9L134.5,422.3L135.0,422.7L135.5,423.1L136.0,423.6L136.5,424.0L137.0,424.4L137.5,424.9L138.0,425.3L138.5,425.8L139.0,426.3L139.5,426.8L140.0,427.2L140.5,427.7L141.0,428.2L141.5,428.7L142.0,429.3L142.5,429.8L143.0,430.3L143.5,430.9L144.0,431.4L144.5,432.0L145.0,432.5L145.5,433.1L146.0,433.7L146.5,434.3L147.0,434.8L147.5,435.5L148.0,436.1L148.5,436.7L149.0,437.3L149.5,438.0L150.0,438.6L150.5,439.3L151.0,439.9L151.5,440.6L152.0,441.3L152.5,442.0L153.0,442.7L153.5,443.4L154.0,444.1L154.5,444.8L155.0,445.6L155.5,446.3L156.0,447.1L156.5,447.8L157.0,448.6L157.5,449.4L158.0,450.2L158.5,451.0L159.0,451.8L159.5,452.7L160.0,453.5L160.5,454.3L161.0,455.2L161.5,456.0L162.0,456.9L162.5,457.8L163.0,458.7L163.5,459.6L164.0,460.5L164.5,461.4L165.0,462.4L165.5,463.3L166.0,464.3L166.5,465.2L167.0,466.2L167.5,467.2L168.0,468.2L168.5,469.2L168.9,470.0" stroke="#fbb012" stroke-width="3.7" fill="none" stroke-linecap="round" stroke-linejoin="round"/>
<path d="M23.5,376.6L23.7,376.8L24.1,377.0L24.4,377.2L24.8,377.4L25.3,377.7L25.7,378.0L26.2,378.3L26.7,378.6L27.2,379.0L27.6,379.3L28.1,379.7L28.5,380.0L28.9,380.3L29.2,380.7L29.6,381.0L29.9,381.4L30.3,381.8L30.6,382.2L31.0,382.6L31.3,383.0L31.7,383.4L32.0,383.8L32.3,384.2L32.6,384.5L32.9,384.9L33.3,385.4L33.6,385.8L34.0,386.2L34.3,386.7L34.6,387.1L34.9,387.5L35.2,387.9L35.5,388.3L35.8,388.8L36.1,389.2L36.4,389.7L36.7,390.2L37.0,390.7L37.2,391.2L37.5,391.8L37.8,392.3L38.0,392.7L38.3,393.1L38.6,393.4L38.8,393.6L39.3,393.6L39.7,393.2L40.1,392.7L40.5,392.2L41.0,391.9L41.6,392.0L42.2,392.2L42.8,392.5L43.3,392.8L43.7,393.0L44.2,393.0L44.7,393.1L45.2,393.1L45.7,393.2L46.2,393.3L46.7,393.3L47.2,393.4L47.7,393.4L48.2,393.5L48.7,393.5L49.2,393.6L49.7,393.7L50.2,393.7L50.7,393.8L51.2,393.9L51.7,394.0L52.2,394.0L52.7,394.1L53.2,394.2L53.7,394.3L54.2,394.4L54.7,394.5L55.2,394.5L55.7,394.6L56.2,394.7L56.7,394.8L57.2,394.9L57.7,395.0L58.2,395.1L58.7,395.2L59.2,395.3L59.7,395.4L60.2,395.5L60.7,395.7L61.2,395.8L61.7,395.9L62.2,396.0L62.7,396.1L63.2,396.2L63.7,396.4L64.2,396.5L64.7,396.6L65.2,396.7L65.7,396.9L66.2,397.0L66.7,397.1L67.2,397.3L67.7,397.4L68.2,397.6L68.7,397.7L69.2,397.8L69.7,398.0L70.2,398.1L70.7,398.3L71.2,398.4L71.7,398.6L72.2,398.8L72.7,398.9L73.2,399.1L73.7,399.3L74.2,399.4L74.7,399.6L75.2,399.8L75.7,399.9L76.2,400.1L76.7,400.3L77.2,400.5L77.7,400.6L78.2,400.8L78.7,401.0L79.2,401.2L79.7,401.4L80.2,401.6L80.7,401.8L81.2,402.0L81.7,402.2L82.2,402.4L82.7,402.6L83.2,402.8L83.7,403.0L84.2,403.2L84.7,403.4L85.2,403.7L85.7,403.9L86.2,404.1L86.7,404.3L87.2,404.5L87.7,404.8L88.2,405.0L88.7,405.2L89.2,405.5L89.7,405.7L90.2,405.9L90.7,406.2L91.2,406.4L91.7,406.7L92.2,406.9L92.7,407.2L93.2,407.4L93.7,407.7L94.2,407.9L94.7,408.2L95.2,408.5L95.7,408.7L96.2,409.0L96.7,409.3L97.2,409.5L97.7,409.8L98.2,410.1L98.7,410.4L99.2,410.6L99.7,410.9L100.2,411.2L100.7,411.5L101.2,411.8L101.7,412.1L102.2,412.4L102.7,412.7L103.2,413.0L103.7,413.3L104.2,413.6L104.7,413.9L105.2,414.2L105.7,414.5L106.2,414.8L106.7,415.1L107.2,415.5L107.7,415.8L108.2,416.1L108.7,416.4L109.2,416.8L109.7,417.1L110.2,417.4L110.7,417.8L111.2,418.1L111.7,418.5L112.2,418.8L112.7,419.2L113.2,419.5L113.7,419.9L114.2,420.2L114.7,420.6L115.2,420.9L115.7,421.3L116.2,421.7L116.7,422.0L117.2,422.4L117.7,422.8L118.2,423.2L118.7,423.5L119.2,423.9L119.7,424.3L120.2,424.7L120.7,425.1L121.2,425.5L121.7,425.9L122.2,426.3L122.7,426.7L123.2,427.1L123.7,427.5L124.2,427.9L124.7,428.3L125.2,428.7L125.7,429.2L126.2,429.6L126.7,430.0L127.2,430.5L127.7,430.9L128.2,431.3L128.7,431.8L129.2,432.2L129.7,432.7L130.2,433.1L130.7,433.6L131.2,434.0L131.7,434.5L132.2,434.9L132.7,435.4L133.2,435.9L133.7,436.4L134.2,436.8L134.7,437.3L135.2,437.8L135.7,438.3L136.2,438.8L136.7,439.3L137.2,439.8L137.7,440.3L138.2,440.8L138.7,441.3L139.2,441.8L139.7,442.3L140.2,442.9L140.7,443.4L141.2,443.9L141.7,444.5L142.2,445.0L142.7,445.5L143.2,446.1L143.7,446.6L144.2,447.2L144.7,447.7L145.2,448.3L145.7,448.9L146.2,449.4L146.7,450.0L147.2,450.6L147.7,451.2L148.2,451.8L148.7,452.3L149.2,452.9L149.7,453.5L150.2,454.2L150.7,454.8L151.2,455.4L151.7,456.0L152.2,456.6L152.7,457.3L153.2,457.9L153.7,458.6L154.2,459.2L154.7,459.9L155.2,460.6L155.7,461.2L156.2,461.9L156.7,462.6L157.2,463.3L157.7,464.0L158.2,464.8L158.7,465.5L159.2,466.2L159.7,467.0L160.2,467.7L160.7,468.5L161.2,469.2L161.7,470.0L162.2,470.8L162.7,471.6L163.2,472.4L163.7,473.2L164.2,474.1L164.7,474.9L165.2,475.8L165.7,476.6L166.2,477.5L166.7,478.4L167.2,479.3L167.7,480.2L168.2,481.1L168.7,482.0L168.9,482.4" stroke="#3c0c4e" stroke-width="3.3" fill="none" stroke-linecap="round" stroke-linejoin="round"/>
<path d="M41.67,376.6V511.3" stroke="#ef4048" stroke-width="0.9" stroke-dasharray="2.4 1 0.8 1" fill="none"/>
<path d="M23.5,466.5H168.9" stroke="#161616" stroke-width="1.2" stroke-dasharray="4.1 3.45" fill="none"/>
</g>
<rect x="23.5" y="376.6" width="145.4" height="134.7" stroke="#959595" stroke-width="0.85" fill="none"/>
<path d="M23.5,511.3v-1.4M23.5,376.6v1.4M41.67,511.3v-1.4M41.67,376.6v1.4M59.85,511.3v-1.4M59.85,376.6v1.4M78.03,511.3v-1.4M78.03,376.6v1.4M96.2,511.3v-1.4M96.2,376.6v1.4M114.38,511.3v-1.4M114.38,376.6v1.4M132.55,511.3v-1.4M132.55,376.6v1.4M150.73,511.3v-1.4M150.73,376.6v1.4M168.9,511.3v-1.4M168.9,376.6v1.4M23.5,376.6h1.4M168.9,376.6h-1.4M23.5,391.57h1.4M168.9,391.57h-1.4M23.5,406.53h1.4M168.9,406.53h-1.4M23.5,421.5h1.4M168.9,421.5h-1.4M23.5,436.47h1.4M168.9,436.47h-1.4M23.5,451.43h1.4M168.9,451.43h-1.4M23.5,466.4h1.4M168.9,466.4h-1.4M23.5,481.37h1.4M168.9,481.37h-1.4M23.5,496.33h1.4M168.9,496.33h-1.4M23.5,511.3h1.4M168.9,511.3h-1.4" stroke="#959595" stroke-width="0.6" fill="none"/>
<text x="23.5" y="520.2" text-anchor="middle" class="tk">0</text>
<text x="41.67" y="520.2" text-anchor="middle" class="tk">100</text>
<text x="59.85" y="520.2" text-anchor="middle" class="tk">200</text>
<text x="78.03" y="520.2" text-anchor="middle" class="tk">300</text>
<text x="96.2" y="520.2" text-anchor="middle" class="tk">400</text>
<text x="114.38" y="520.2" text-anchor="middle" class="tk">500</text>
<text x="132.55" y="520.2" text-anchor="middle" class="tk">600</text>
<text x="150.73" y="520.2" text-anchor="middle" class="tk">700</text>
<text x="168.9" y="520.2" text-anchor="middle" class="tk">800</text>
<text x="21.5" y="379.1" text-anchor="end" class="tk">1</text>
<text x="21.5" y="394.07" text-anchor="end" class="tk">0.95</text>
<text x="21.5" y="409.03" text-anchor="end" class="tk">0.9</text>
<text x="21.5" y="424" text-anchor="end" class="tk">0.85</text>
<text x="21.5" y="438.97" text-anchor="end" class="tk">0.8</text>
<text x="21.5" y="453.93" text-anchor="end" class="tk">0.75</text>
<text x="21.5" y="468.9" text-anchor="end" class="tk">0.7</text>
<text x="21.5" y="483.87" text-anchor="end" class="tk">0.65</text>
<text x="21.5" y="498.83" text-anchor="end" class="tk">0.6</text>
<text x="21.5" y="513.8" text-anchor="end" class="tk">0.55</text>
<text x="96.2" y="527.5" text-anchor="middle" class="lb">Cycles</text>
<text x="9.3" y="443.95" transform="rotate(-90 9.3 443.95)" text-anchor="middle" class="lb">SOH/%</text>
<path d="M233.04,376.6V511.3M251.28,376.6V511.3M269.51,376.6V511.3M287.75,376.6V511.3M305.99,376.6V511.3M324.23,376.6V511.3M342.46,376.6V511.3M214.8,391.57H360.7M214.8,406.53H360.7M214.8,421.5H360.7M214.8,436.47H360.7M214.8,451.43H360.7M214.8,466.4H360.7M214.8,481.37H360.7M214.8,496.33H360.7" stroke="#e6e6e6" stroke-width="0.6" fill="none"/>
<clipPath id="c214_376"><rect x="214.3" y="374.1" width="148.9" height="137.2"/></clipPath>
<g clip-path="url(#c214_376)">
<path d="M214.8,376.6L215.2,378.1L215.7,379.7L216.1,380.9L216.5,382.0L217.1,383.6L217.9,384.9L218.8,386.1L219.9,387.1L220.9,388.1L222.0,389.2L223.2,390.2L224.4,391.2L225.6,392.2L226.7,393.4L227.7,394.4L228.7,395.6L229.7,396.8L230.7,398.1L231.6,399.4L232.5,400.8L233.3,402.4L233.9,403.5L234.7,405.0L235.5,406.2L236.9,406.3L238.4,407.2L239.4,405.8L240.8,405.4L242.2,406.0L243.5,406.1L244.9,406.4L246.6,404.9L247.7,405.1L248.5,406.1L249.7,407.7L251.0,408.6L251.9,407.5L253.4,405.8L255.0,405.3L256.3,406.6L257.8,406.6L258.5,408.0L259.2,409.9L260.5,409.1L261.0,410.5L262.5,411.7L263.5,410.6L264.5,411.5L266.0,412.7L267.5,411.6L268.5,412.7L269.9,413.9L271.2,414.7L272.6,415.3L273.9,415.6L274.9,416.6L276.4,416.8L277.8,417.4L279.3,417.7L280.6,419.4L281.9,420.1L283.3,419.8L284.9,420.5L286.0,419.7L287.7,419.8L289.1,419.9L289.7,421.3L290.6,422.1L291.6,422.9L292.8,423.7L294.2,423.2L295.8,424.3L296.9,422.9L298.0,424.1L299.6,423.7L301.1,424.1L302.6,424.9L304.2,425.1L305.7,425.3L307.2,425.0L307.7,425.4L308.6,427.0L310.0,427.3L311.4,428.4L312.7,429.7L314.0,430.0L315.2,429.6L315.6,430.4L316.3,431.6L317.5,432.0L318.2,434.3L319.5,435.9L320.7,437.5L322.0,438.4L323.0,440.5L324.2,441.0L324.5,441.8L325.1,442.9L326.0,444.5L327.3,444.9L328.7,444.4L329.7,445.0L330.7,445.4L331.7,446.3L332.4,446.8L333.1,448.1L333.8,449.1L334.9,451.0L336.1,452.6L337.1,453.5L338.0,454.6L339.2,456.6L340.5,458.2L341.9,459.2L343.0,460.6L344.1,462.0L345.3,461.4L345.7,463.4L347.2,463.7L347.9,464.7L349.0,466.4L350.3,467.4L351.5,467.2L352.3,468.9L353.5,468.6L353.8,469.5L354.9,471.3L356.1,471.6L357.0,472.8L358.2,474.4L359.3,475.8L360.5,476.9L360.7,476.6M217.81,384.8V412.4M226.14,392.81V421M230.45,397.79V430.9M232.46,400.81V435.2M234.97,405.38V437M237.88,406.93V434.1M248.82,406.51V437.4M252.03,407.37V439M266.28,412.46V445.7M268.58,412.8V446.6M272.4,415.24V441.8M277.21,417.15V447.6M281.03,419.64V451M308.72,427.04V462.8M317.25,431.91V464.7M319.96,436.48V478.8M337.82,454.31V487.7M342.34,459.78V494.4M352.67,468.79V501M357.59,473.62V505.5M360.2,476.62V492.2" stroke="#1a80c8" stroke-width="1.5" fill="none" stroke-linejoin="round"/>
<path d="M216.81,412.4h2M217.81,411.4v2" stroke="#fa5716" stroke-width="0.8"/>
<path d="M225.14,421h2M226.14,420v2" stroke="#fa5716" stroke-width="0.8"/>
<path d="M229.45,430.9h2M230.45,429.9v2" stroke="#fa5716" stroke-width="0.8"/>
<path d="M231.46,435.2h2M232.46,434.2v2" stroke="#fa5716" stroke-width="0.8"/>
<path d="M233.97,437h2M234.97,436v2" stroke="#fa5716" stroke-width="0.8"/>
<path d="M236.88,434.1h2M237.88,433.1v2" stroke="#fa5716" stroke-width="0.8"/>
<path d="M247.82,437.4h2M248.82,436.4v2" stroke="#fa5716" stroke-width="0.8"/>
<path d="M214.8,384.5L216.7,385.1L218.3,386.1L219.7,387.6L220.8,389.0L222.1,389.8L222.7,390.2L223.1,392.0L224.0,394.1L225.3,394.9L226.2,396.4L227.2,396.3L227.5,398.2L228.5,400.9L230.0,402.8L231.5,404.3L233.4,404.3L233.9,407.1L235.6,407.7L237.1,405.8L238.6,407.0L240.2,404.8L241.8,404.7L243.4,405.1L244.9,404.8L246.5,406.8L248.0,407.3L249.6,406.2L251.2,406.4L251.8,407.1L252.4,407.2L253.0,407.3L253.6,407.4L254.2,407.5L254.7,407.6L255.2,407.6L255.7,407.7L256.1,407.8L256.5,407.9L256.8,407.9L257.3,407.6L257.8,407.3L258.3,407.0L258.8,406.6L259.3,406.3L259.8,406.0L260.3,405.7L260.8,405.5L261.3,405.2L261.8,404.9L262.3,404.6L262.8,404.3L263.3,404.1L263.8,403.8L264.3,403.5L264.8,403.3L265.3,403.0L265.8,402.7L266.3,402.5L266.8,402.2L267.3,402.0L267.8,401.8L268.3,401.5L268.8,401.3L269.3,401.1L269.8,400.8L270.3,400.6L270.8,400.4L271.3,400.2L271.8,400.0L272.3,399.8L272.8,399.6L273.3,399.4L273.8,399.2L274.3,399.0L274.8,398.8L275.3,398.6L275.8,398.4L276.3,398.2L276.8,398.0L277.3,397.9L277.8,397.7L278.3,397.5L278.8,397.4L279.3,397.2L279.8,397.0L280.3,396.9L280.8,396.7L281.3,396.6L281.8,396.4L282.3,396.3L282.8,396.1L283.3,396.0L283.8,395.9L284.3,395.7L284.8,395.6L285.3,395.5L285.8,395.3L286.3,395.2L286.8,395.1L287.3,395.0L287.8,394.9L288.3,394.7L288.8,394.6L289.3,394.5L289.8,394.4L290.3,394.3L290.8,394.2L291.3,394.1L291.8,394.0L292.3,393.9L292.8,393.8L293.3,393.7L293.8,393.6L294.3,393.6L294.8,393.5L295.3,393.4L295.8,393.3L296.3,393.2L296.8,393.2L297.3,393.1L297.8,393.0L298.3,392.9L298.8,392.9L299.3,392.8L299.8,392.7L300.3,392.7L300.8,392.6L301.3,392.6L301.8,392.5L302.3,392.5L302.8,392.4L303.3,392.4L303.8,392.3L304.3,392.3L304.8,392.2L305.3,392.2L305.8,392.1L306.3,392.1L306.8,392.0L307.3,392.0L307.8,392.0L308.3,391.9L308.8,391.9L309.3,391.9L309.8,391.8L310.3,391.8L310.8,391.8L311.3,391.8L311.8,391.7L312.3,391.7L312.8,391.7L313.3,391.7L313.8,391.6L314.3,391.6L314.8,391.6L315.3,391.6L315.8,391.6L316.3,391.6L316.8,391.5L317.3,391.5L317.8,391.5L318.3,391.5L318.8,391.5L319.3,391.5L319.8,391.5L320.3,391.5L320.8,391.5L321.3,391.5L321.8,391.5L322.3,391.4L322.8,391.4L323.3,391.4L323.8,391.4L324.3,391.4L324.8,391.4L325.3,391.4L325.8,391.4L326.3,391.4L326.8,391.4L327.3,391.4L327.8,391.4L328.3,391.4L328.8,391.4L329.3,391.4L329.8,391.4L330.3,391.5L330.8,391.5L331.3,391.5L331.8,391.5L332.3,391.5L332.8,391.5L333.3,391.5L333.8,391.5L334.3,391.5L334.8,391.5L335.3,391.5L335.8,391.5L336.3,391.5L336.8,391.5L337.3,391.5L337.8,391.5L338.3,391.5L338.8,391.5L339.3,391.5L339.8,391.5L340.3,391.5L340.8,391.5L341.3,391.6L341.8,391.6L342.3,391.6L342.8,391.6L343.3,391.6L343.8,391.6L344.3,391.6L344.8,391.6L345.3,391.6L345.8,391.6L346.3,391.6L346.8,391.6L347.3,391.6L347.8,391.6L348.3,391.6L348.8,391.6L349.3,391.5L349.8,391.5L350.3,391.5L350.8,391.5L351.3,391.5L351.8,391.5L352.3,391.5L352.8,391.5L353.3,391.5L353.8,391.5L354.3,391.5L354.8,391.4L355.3,391.4L355.8,391.4L356.3,391.4L356.8,391.4L357.3,391.4L357.8,391.3L358.3,391.3L358.8,391.3L359.3,391.3L359.8,391.2L360.3,391.2L360.7,391.2" stroke="#fa5716" stroke-width="3.1" fill="none" stroke-linecap="round" stroke-linejoin="round"/>
<path d="M213.55,383.41h2.6M214.85,382.11v2.6M216.91,386.44h2.6M218.21,385.14v2.6M219.47,388.18h2.6M220.77,386.88v2.6M221.14,389.74h2.6M222.44,388.44v2.6M222.42,393.76h2.6M223.72,392.46v2.6M224.76,397.47h2.6M226.06,396.17v2.6M226.9,400.9h2.6M228.2,399.6v2.6M228.59,403.87h2.6M229.89,402.57v2.6M232.36,405.2h2.6M233.66,403.9v2.6M232.61,407.06h2.6M233.91,405.76v2.6M235.81,406.01h2.6M237.11,404.71v2.6M239.1,404.56h2.6M240.4,403.26v2.6M241.92,405.47h2.6M243.22,404.17v2.6M245.27,406.05h2.6M246.57,404.75v2.6M248.39,405.69h2.6M249.69,404.39v2.6M250.8,407.73h2.6M252.1,406.43v2.6" stroke="#fa5716" stroke-width="0.9" fill="none"/>
<path d="M214.8,376.6L215.3,377.1L215.8,377.5L216.3,378.0L216.8,378.4L217.3,378.8L217.8,379.2L218.3,379.7L218.8,380.1L219.3,380.5L219.8,380.9L220.3,381.3L220.8,381.7L221.3,382.0L221.8,382.4L222.3,382.8L222.8,383.2L223.3,383.5L223.8,383.9L224.3,384.2L224.8,384.6L225.3,384.9L225.8,385.2L226.3,385.6L226.8,385.9L227.3,386.2L227.8,386.5L228.3,386.8L228.8,387.1L229.3,387.4L229.8,387.7L230.3,388.0L230.8,388.3L231.3,388.6L231.8,388.8L232.3,389.1L232.8,389.4L233.3,389.6L233.8,389.9L234.3,390.2L234.8,390.4L235.3,390.6L235.8,390.9L236.3,391.1L236.8,391.4L237.3,391.6L237.8,391.8L238.3,392.0L238.8,392.3L239.3,392.5L239.8,392.7L240.3,392.9L240.8,393.1L241.3,393.3L241.8,393.5L242.3,393.7L242.8,393.9L243.3,394.1L243.8,394.2L244.3,394.4L244.8,394.6L245.3,394.8L245.8,395.0L246.3,395.1L246.8,395.3L247.3,395.5L247.8,395.6L248.3,395.8L248.8,395.9L249.3,396.1L249.8,396.3L250.3,396.4L250.8,396.6L251.3,396.7L251.8,396.8L252.3,397.0L252.8,397.1L253.3,397.3L253.8,397.4L254.3,397.5L254.8,397.7L255.3,397.8L255.8,397.9L256.3,398.1L256.8,398.2L257.3,398.3L257.8,398.4L258.3,398.6L258.8,398.7L259.3,398.8L259.8,398.9L260.3,399.0L260.8,399.2L261.3,399.3L261.8,399.4L262.3,399.5L262.8,399.6L263.3,399.7L263.8,399.9L264.3,400.0L264.8,400.1L265.3,400.2L265.8,400.3L266.3,400.4L266.8,400.5L267.3,400.6L267.8,400.7L268.3,400.9L268.8,401.0L269.3,401.1L269.8,401.2L270.3,401.3L270.8,401.4L271.3,401.5L271.8,401.6L272.3,401.7L272.8,401.9L273.3,402.0L273.8,402.1L274.3,402.2L274.8,402.3L275.3,402.4L275.8,402.6L276.3,402.7L276.8,402.8L277.3,402.9L277.8,403.0L278.3,403.2L278.8,403.3L279.3,403.4L279.8,403.5L280.3,403.7L280.8,403.8L281.3,403.9L281.8,404.1L282.3,404.2L282.8,404.3L283.3,404.5L283.8,404.6L284.3,404.8L284.8,404.9L285.3,405.0L285.8,405.2L286.3,405.3L286.8,405.5L287.3,405.6L287.8,405.8L288.3,406.0L288.8,406.1L289.3,406.3L289.8,406.5L290.3,406.6L290.8,406.8L291.3,407.0L291.8,407.2L292.3,407.3L292.8,407.5L293.3,407.7L293.8,407.9L294.3,408.1L294.8,408.3L295.3,408.5L295.8,408.7L296.3,408.9L296.8,409.1L297.3,409.3L297.8,409.5L298.3,409.8L298.8,410.0L299.3,410.2L299.8,410.4L300.3,410.7L300.8,410.9L301.3,411.2L301.8,411.4L302.3,411.7L302.8,411.9L303.3,412.2L303.8,412.5L304.3,412.7L304.8,413.0L305.3,413.3L305.8,413.6L306.3,413.8L306.8,414.1L307.3,414.4L307.8,414.7L308.3,415.0L308.8,415.4L309.3,415.7L309.8,416.0L310.3,416.3L310.8,416.7L311.3,417.0L311.8,417.3L312.3,417.7L312.8,418.0L313.3,418.4L313.8,418.8L314.3,419.1L314.8,419.5L315.3,419.9L315.8,420.3L316.3,420.7L316.8,421.1L317.3,421.5L317.8,421.9L318.3,422.3L318.8,422.7L319.3,423.2L319.8,423.6L320.3,424.0L320.8,424.5L321.3,424.9L321.8,425.4L322.3,425.9L322.8,426.3L323.3,426.8L323.8,427.3L324.3,427.8L324.8,428.3L325.3,428.8L325.8,429.3L326.3,429.8L326.8,430.4L327.3,430.9L327.8,431.4L328.3,432.0L328.8,432.6L329.3,433.1L329.8,433.7L330.3,434.3L330.8,434.9L331.3,435.5L331.8,436.1L332.3,436.7L332.8,437.3L333.3,437.9L333.8,438.5L334.3,439.2L334.8,439.8L335.3,440.5L335.8,441.1L336.3,441.8L336.8,442.5L337.3,443.2L337.8,443.9L338.3,444.6L338.8,445.3L339.3,446.0L339.8,446.7L340.3,447.5L340.8,448.2L341.3,449.0L341.8,449.8L342.3,450.5L342.8,451.3L343.3,452.1L343.8,452.9L344.3,453.7L344.8,454.5L345.3,455.3L345.8,456.2L346.3,457.0L346.8,457.9L347.3,458.7L347.8,459.6L348.3,460.5L348.8,461.4L349.3,462.3L349.8,463.2L350.3,464.1L350.8,465.0L351.3,466.0L351.8,466.9L352.3,467.9L352.8,468.9L353.3,469.8L353.8,470.8L354.3,471.8L354.8,472.8L355.3,473.8L355.8,474.9L356.3,475.9L356.8,477.0L357.3,478.0L357.8,479.1L358.3,480.2L358.8,481.3L359.3,482.4L359.8,483.5L360.3,484.6L360.7,485.5" stroke="#fbb012" stroke-width="3.7" fill="none" stroke-linecap="round" stroke-linejoin="round"/>
<path d="M214.8,376.6L215.1,376.7L215.4,376.9L215.7,377.0L216.1,377.2L216.6,377.3L217.0,377.5L217.5,377.7L218.0,378.0L218.6,378.2L219.1,378.5L219.6,378.8L220.1,379.2L220.6,379.6L221.1,380.0L221.4,380.3L221.7,380.6L222.0,380.9L222.3,381.3L222.6,381.6L222.9,382.0L223.2,382.4L223.6,382.8L223.9,383.2L224.2,383.6L224.5,384.0L224.8,384.5L225.1,384.9L225.4,385.3L225.7,385.8L226.0,386.2L226.3,386.7L226.6,387.1L226.9,387.6L227.2,388.0L227.5,388.5L227.8,388.9L228.1,389.3L228.3,389.8L228.6,390.3L228.9,390.8L229.1,391.3L229.4,391.8L229.6,392.3L229.9,392.9L230.1,393.4L230.4,393.9L230.6,394.5L230.9,395.0L231.1,395.5L231.3,396.0L231.6,396.4L231.8,396.9L232.0,397.3L232.3,397.7L232.5,398.0L232.7,398.3L233.0,398.6L233.2,398.8L233.4,399.0L233.9,399.2L234.3,399.2L234.7,399.1L235.1,398.9L235.5,398.5L235.9,398.1L236.3,397.6L236.7,397.1L237.1,396.5L237.5,396.0L237.9,395.6L238.2,395.2L238.5,394.8L238.8,394.4L239.2,393.9L239.5,393.4L239.8,392.9L240.1,392.4L240.4,392.0L240.7,391.5L241.0,391.1L241.4,390.7L241.7,390.4L242.0,390.2L242.3,390.0L242.8,389.9L243.2,389.9L243.7,390.0L244.2,390.3L244.6,390.5L245.1,390.8L245.5,391.2L246.0,391.6L246.4,391.9L246.8,392.3L247.2,392.7L247.6,393.1L248.0,393.6L248.4,394.1L248.7,394.6L249.1,395.2L249.4,395.6L249.7,396.1L249.9,396.4L250.1,396.7L250.6,396.8L251.1,396.8L251.6,396.9L252.1,397.0L252.6,397.1L253.1,397.1L253.6,397.2L254.1,397.3L254.6,397.4L255.1,397.5L255.6,397.6L256.1,397.7L256.6,397.8L257.1,397.9L257.6,398.0L258.1,398.1L258.6,398.3L259.1,398.4L259.6,398.5L260.1,398.6L260.6,398.8L261.1,398.9L261.6,399.1L262.1,399.2L262.6,399.3L263.1,399.5L263.6,399.6L264.1,399.8L264.6,400.0L265.1,400.1L265.6,400.3L266.1,400.4L266.6,400.6L267.1,400.8L267.6,401.0L268.1,401.1L268.6,401.3L269.1,401.5L269.6,401.7L270.1,401.9L270.6,402.1L271.1,402.3L271.6,402.5L272.1,402.7L272.6,402.9L273.1,403.1L273.6,403.3L274.1,403.5L274.6,403.7L275.1,403.9L275.6,404.1L276.1,404.3L276.6,404.6L277.1,404.8L277.6,405.0L278.1,405.2L278.6,405.5L279.1,405.7L279.6,405.9L280.1,406.2L280.6,406.4L281.1,406.7L281.6,406.9L282.1,407.1L282.6,407.4L283.1,407.6L283.6,407.9L284.1,408.1L284.6,408.4L285.1,408.6L285.6,408.9L286.1,409.2L286.6,409.4L287.1,409.7L287.6,409.9L288.1,410.2L288.6,410.5L289.1,410.7L289.6,411.0L290.1,411.3L290.6,411.5L291.1,411.8L291.6,412.1L292.1,412.4L292.6,412.6L293.1,412.9L293.6,413.2L294.1,413.5L294.6,413.8L295.1,414.1L295.6,414.3L296.1,414.6L296.6,414.9L297.1,415.2L297.6,415.5L298.1,415.8L298.6,416.1L299.1,416.4L299.6,416.7L300.1,417.0L300.6,417.3L301.1,417.6L301.6,417.9L302.1,418.3L302.6,418.6L303.1,418.9L303.6,419.2L304.1,419.5L304.6,419.9L305.1,420.2L305.6,420.5L306.1,420.9L306.6,421.2L307.1,421.6L307.6,421.9L308.1,422.2L308.6,422.6L309.1,423.0L309.6,423.3L310.1,423.7L310.6,424.1L311.1,424.4L311.6,424.8L312.1,425.2L312.6,425.6L313.1,425.9L313.6,426.3L314.1,426.7L314.6,427.1L315.1,427.5L315.6,427.9L316.1,428.4L316.6,428.8L317.1,429.2L317.6,429.6L318.1,430.0L318.6,430.5L319.1,430.9L319.6,431.4L320.1,431.8L320.6,432.3L321.1,432.7L321.6,433.2L322.1,433.6L322.6,434.1L323.1,434.6L323.6,435.1L324.1,435.6L324.6,436.0L325.1,436.5L325.6,437.0L326.1,437.5L326.6,438.1L327.1,438.6L327.6,439.1L328.1,439.6L328.6,440.2L329.1,440.7L329.6,441.2L330.1,441.8L330.6,442.3L331.1,442.9L331.6,443.5L332.1,444.0L332.6,444.6L333.1,445.2L333.6,445.8L334.1,446.4L334.6,447.0L335.1,447.6L335.6,448.2L336.1,448.8L336.6,449.4L337.1,450.0L337.6,450.7L338.1,451.3L338.6,452.0L339.1,452.6L339.6,453.3L340.1,454.0L340.6,454.6L341.1,455.3L341.6,456.0L342.1,456.7L342.6,457.4L343.1,458.1L343.6,458.9L344.1,459.6L344.6,460.3L345.1,461.1L345.6,461.9L346.1,462.6L346.6,463.4L347.1,464.2L347.6,465.0L348.1,465.8L348.6,466.6L349.1,467.5L349.6,468.3L350.1,469.2L350.6,470.0L351.1,470.9L351.6,471.8L352.1,472.7L352.6,473.6L353.1,474.5L353.6,475.5L354.1,476.4L354.6,477.3L355.1,478.3L355.6,479.3L356.1,480.3L356.6,481.3L357.1,482.3L357.6,483.3L358.1,484.3L358.6,485.4L359.1,486.4L359.6,487.5L360.1,488.6L360.6,489.7L360.7,489.9" stroke="#3c0c4e" stroke-width="3.3" fill="none" stroke-linecap="round" stroke-linejoin="round"/>
<path d="M251.28,376.6V511.3" stroke="#ef4048" stroke-width="0.9" stroke-dasharray="2.4 1 0.8 1" fill="none"/>
<path d="M214.8,466.5H360.7" stroke="#161616" stroke-width="1.2" stroke-dasharray="4.1 3.45" fill="none"/>
</g>
<rect x="214.8" y="376.6" width="145.9" height="134.7" stroke="#959595" stroke-width="0.85" fill="none"/>
<path d="M214.8,511.3v-1.4M214.8,376.6v1.4M233.04,511.3v-1.4M233.04,376.6v1.4M251.28,511.3v-1.4M251.28,376.6v1.4M269.51,511.3v-1.4M269.51,376.6v1.4M287.75,511.3v-1.4M287.75,376.6v1.4M305.99,511.3v-1.4M305.99,376.6v1.4M324.23,511.3v-1.4M324.23,376.6v1.4M342.46,511.3v-1.4M342.46,376.6v1.4M360.7,511.3v-1.4M360.7,376.6v1.4M214.8,376.6h1.4M360.7,376.6h-1.4M214.8,391.57h1.4M360.7,391.57h-1.4M214.8,406.53h1.4M360.7,406.53h-1.4M214.8,421.5h1.4M360.7,421.5h-1.4M214.8,436.47h1.4M360.7,436.47h-1.4M214.8,451.43h1.4M360.7,451.43h-1.4M214.8,466.4h1.4M360.7,466.4h-1.4M214.8,481.37h1.4M360.7,481.37h-1.4M214.8,496.33h1.4M360.7,496.33h-1.4M214.8,511.3h1.4M360.7,511.3h-1.4" stroke="#959595" stroke-width="0.6" fill="none"/>
<text x="214.8" y="520.2" text-anchor="middle" class="tk">0</text>
<text x="233.04" y="520.2" text-anchor="middle" class="tk">100</text>
<text x="251.28" y="520.2" text-anchor="middle" class="tk">200</text>
<text x="269.51" y="520.2" text-anchor="middle" class="tk">300</text>
<text x="287.75" y="520.2" text-anchor="middle" class="tk">400</text>
<text x="305.99" y="520.2" text-anchor="middle" class="tk">500</text>
<text x="324.23" y="520.2" text-anchor="middle" class="tk">600</text>
<text x="342.46" y="520.2" text-anchor="middle" class="tk">700</text>
<text x="360.7" y="520.2" text-anchor="middle" class="tk">800</text>
<text x="212.8" y="379.1" text-anchor="end" class="tk">1</text>
<text x="212.8" y="394.07" text-anchor="end" class="tk">0.95</text>
<text x="212.8" y="409.03" text-anchor="end" class="tk">0.9</text>
<text x="212.8" y="424" text-anchor="end" class="tk">0.85</text>
<text x="212.8" y="438.97" text-anchor="end" class="tk">0.8</text>
<text x="212.8" y="453.93" text-anchor="end" class="tk">0.75</text>
<text x="212.8" y="468.9" text-anchor="end" class="tk">0.7</text>
<text x="212.8" y="483.87" text-anchor="end" class="tk">0.65</text>
<text x="212.8" y="498.83" text-anchor="end" class="tk">0.6</text>
<text x="212.8" y="513.8" text-anchor="end" class="tk">0.55</text>
<text x="287.75" y="527.5" text-anchor="middle" class="lb">Cycles</text>
<text x="200.6" y="443.95" transform="rotate(-90 200.6 443.95)" text-anchor="middle" class="lb">SOH/%</text>
<rect x="92.2" y="95.3" width="56.3" height="40.4" fill="#fff" stroke="#959595" stroke-width="0.7"/>
<path d="M94.2,99.4H110" stroke="#1a80c8" stroke-width="1.4"/>
<path d="M101.1,106h2.6M102.4,104.7v2.6" stroke="#fa5716" stroke-width="0.8"/>
<circle cx="102.4" cy="112.6" r="1.5" stroke="#fbb012" stroke-width="0.8" fill="none"/>
<circle cx="102.4" cy="119.2" r="1.3" fill="#3c0c4e"/>
<path d="M94.2,125.8H110" stroke="#ef4048" stroke-width="0.8" stroke-dasharray="2.4 0.9 0.7 0.9"/>
<path d="M94.2,132.4H110" stroke="#161616" stroke-width="1.2" stroke-dasharray="4 3.6"/>
<text x="111.8" y="101.25" class="lg">Measured</text>
<text x="111.8" y="107.85" class="lg">Model1</text>
<text x="111.8" y="114.45" class="lg">Model2</text>
<text x="111.8" y="121.05" class="lg">Proposed Model</text>
<text x="111.8" y="127.65" class="lg">SP=100</text>
<text x="111.8" y="134.25" class="lg">EOL</text>
<rect x="283.5" y="94.8" width="55.6" height="40.2" fill="#fff" stroke="#959595" stroke-width="0.7"/>
<path d="M285.5,98.9H301.3" stroke="#1a80c8" stroke-width="1.4"/>
<path d="M292.4,105.5h2.6M293.7,104.2v2.6" stroke="#fa5716" stroke-width="0.8"/>
<circle cx="293.7" cy="112.1" r="1.5" stroke="#fbb012" stroke-width="0.8" fill="none"/>
<circle cx="293.7" cy="118.7" r="1.3" fill="#3c0c4e"/>
<path d="M285.5,125.3H301.3" stroke="#ef4048" stroke-width="0.8" stroke-dasharray="2.4 0.9 0.7 0.9"/>
<path d="M285.5,131.9H301.3" stroke="#161616" stroke-width="1.2" stroke-dasharray="4 3.6"/>
<text x="303.1" y="100.75" class="lg">Measured</text>
<text x="303.1" y="107.35" class="lg">Model1</text>
<text x="303.1" y="113.95" class="lg">Model2</text>
<text x="303.1" y="120.55" class="lg">Proposed Model</text>
<text x="303.1" y="127.15" class="lg">SP=200</text>
<text x="303.1" y="133.75" class="lg">EOL</text>
<rect x="54.1" y="273.3" width="56.1" height="41.3" fill="#fff" stroke="#959595" stroke-width="0.7"/>
<path d="M56.1,277.4H71.9" stroke="#1a80c8" stroke-width="1.4"/>
<path d="M63,284h2.6M64.3,282.7v2.6" stroke="#fa5716" stroke-width="0.8"/>
<circle cx="64.3" cy="290.6" r="1.5" stroke="#fbb012" stroke-width="0.8" fill="none"/>
<circle cx="64.3" cy="297.2" r="1.3" fill="#3c0c4e"/>
<path d="M56.1,303.8H71.9" stroke="#ef4048" stroke-width="0.8" stroke-dasharray="2.4 0.9 0.7 0.9"/>
<path d="M56.1,310.4H71.9" stroke="#161616" stroke-width="1.2" stroke-dasharray="4 3.6"/>
<text x="73.7" y="279.25" class="lg">Measured</text>
<text x="73.7" y="285.85" class="lg">Model1</text>
<text x="73.7" y="292.45" class="lg">Model2</text>
<text x="73.7" y="299.05" class="lg">Proposed Model</text>
<text x="73.7" y="305.65" class="lg">SP=100</text>
<text x="73.7" y="312.25" class="lg">EOL</text>
<rect x="261.5" y="275.7" width="55.5" height="40.7" fill="#fff" stroke="#959595" stroke-width="0.7"/>
<path d="M263.5,279.8H279.3" stroke="#1a80c8" stroke-width="1.4"/>
<path d="M270.4,286.4h2.6M271.7,285.1v2.6" stroke="#fa5716" stroke-width="0.8"/>
<circle cx="271.7" cy="293" r="1.5" stroke="#fbb012" stroke-width="0.8" fill="none"/>
<circle cx="271.7" cy="299.6" r="1.3" fill="#3c0c4e"/>
<path d="M263.5,306.2H279.3" stroke="#ef4048" stroke-width="0.8" stroke-dasharray="2.4 0.9 0.7 0.9"/>
<path d="M263.5,312.8H279.3" stroke="#161616" stroke-width="1.2" stroke-dasharray="4 3.6"/>
<text x="281.1" y="281.65" class="lg">Measured</text>
<text x="281.1" y="288.25" class="lg">Model1</text>
<text x="281.1" y="294.85" class="lg">Model2</text>
<text x="281.1" y="301.45" class="lg">Proposed Model</text>
<text x="281.1" y="308.05" class="lg">SP=200</text>
<text x="281.1" y="314.65" class="lg">EOL</text>
<rect x="62.2" y="469.3" width="55.3" height="38.9" fill="#fff" stroke="#959595" stroke-width="0.7"/>
<path d="M64.2,473.4H80" stroke="#1a80c8" stroke-width="1.4"/>
<path d="M71.1,479.85h2.6M72.4,478.55v2.6" stroke="#fa5716" stroke-width="0.8"/>
<circle cx="72.4" cy="486.3" r="1.5" stroke="#fbb012" stroke-width="0.8" fill="none"/>
<circle cx="72.4" cy="492.75" r="1.3" fill="#3c0c4e"/>
<path d="M64.2,499.2H80" stroke="#ef4048" stroke-width="0.8" stroke-dasharray="2.4 0.9 0.7 0.9"/>
<path d="M64.2,505.65H80" stroke="#161616" stroke-width="1.2" stroke-dasharray="4 3.6"/>
<text x="81.8" y="475.25" class="lg">Measured</text>
<text x="81.8" y="481.7" class="lg">Model1</text>
<text x="81.8" y="488.15" class="lg">Model2</text>
<text x="81.8" y="494.6" class="lg">Proposed Model</text>
<text x="81.8" y="501.05" class="lg">SP=100</text>
<text x="81.8" y="507.5" class="lg">EOL</text>
<rect x="260.2" y="468.7" width="54.8" height="39.5" fill="#fff" stroke="#959595" stroke-width="0.7"/>
<path d="M262.2,472.8H278" stroke="#1a80c8" stroke-width="1.4"/>
<path d="M269.1,479.25h2.6M270.4,477.95v2.6" stroke="#fa5716" stroke-width="0.8"/>
<circle cx="270.4" cy="485.7" r="1.5" stroke="#fbb012" stroke-width="0.8" fill="none"/>
<circle cx="270.4" cy="492.15" r="1.3" fill="#3c0c4e"/>
<path d="M262.2,498.6H278" stroke="#ef4048" stroke-width="0.8" stroke-dasharray="2.4 0.9 0.7 0.9"/>
<path d="M262.2,505.05H278" stroke="#161616" stroke-width="1.2" stroke-dasharray="4 3.6"/>
<text x="279.8" y="474.65" class="lg">Measured</text>
<text x="279.8" y="481.1" class="lg">Model1</text>
<text x="279.8" y="487.55" class="lg">Model2</text>
<text x="279.8" y="494" class="lg">Proposed Model</text>
<text x="279.8" y="500.45" class="lg">SP=200</text>
<text x="279.8" y="506.9" class="lg">EOL</text>
<text x="185.6" y="170.9" text-anchor="middle" class="cap">(a)</text>
<text x="185.6" y="360.8" text-anchor="middle" class="cap">(b)</text>
<text x="185.6" y="547.3" text-anchor="middle" class="cap">(c)</text>
</svg></body></html>
